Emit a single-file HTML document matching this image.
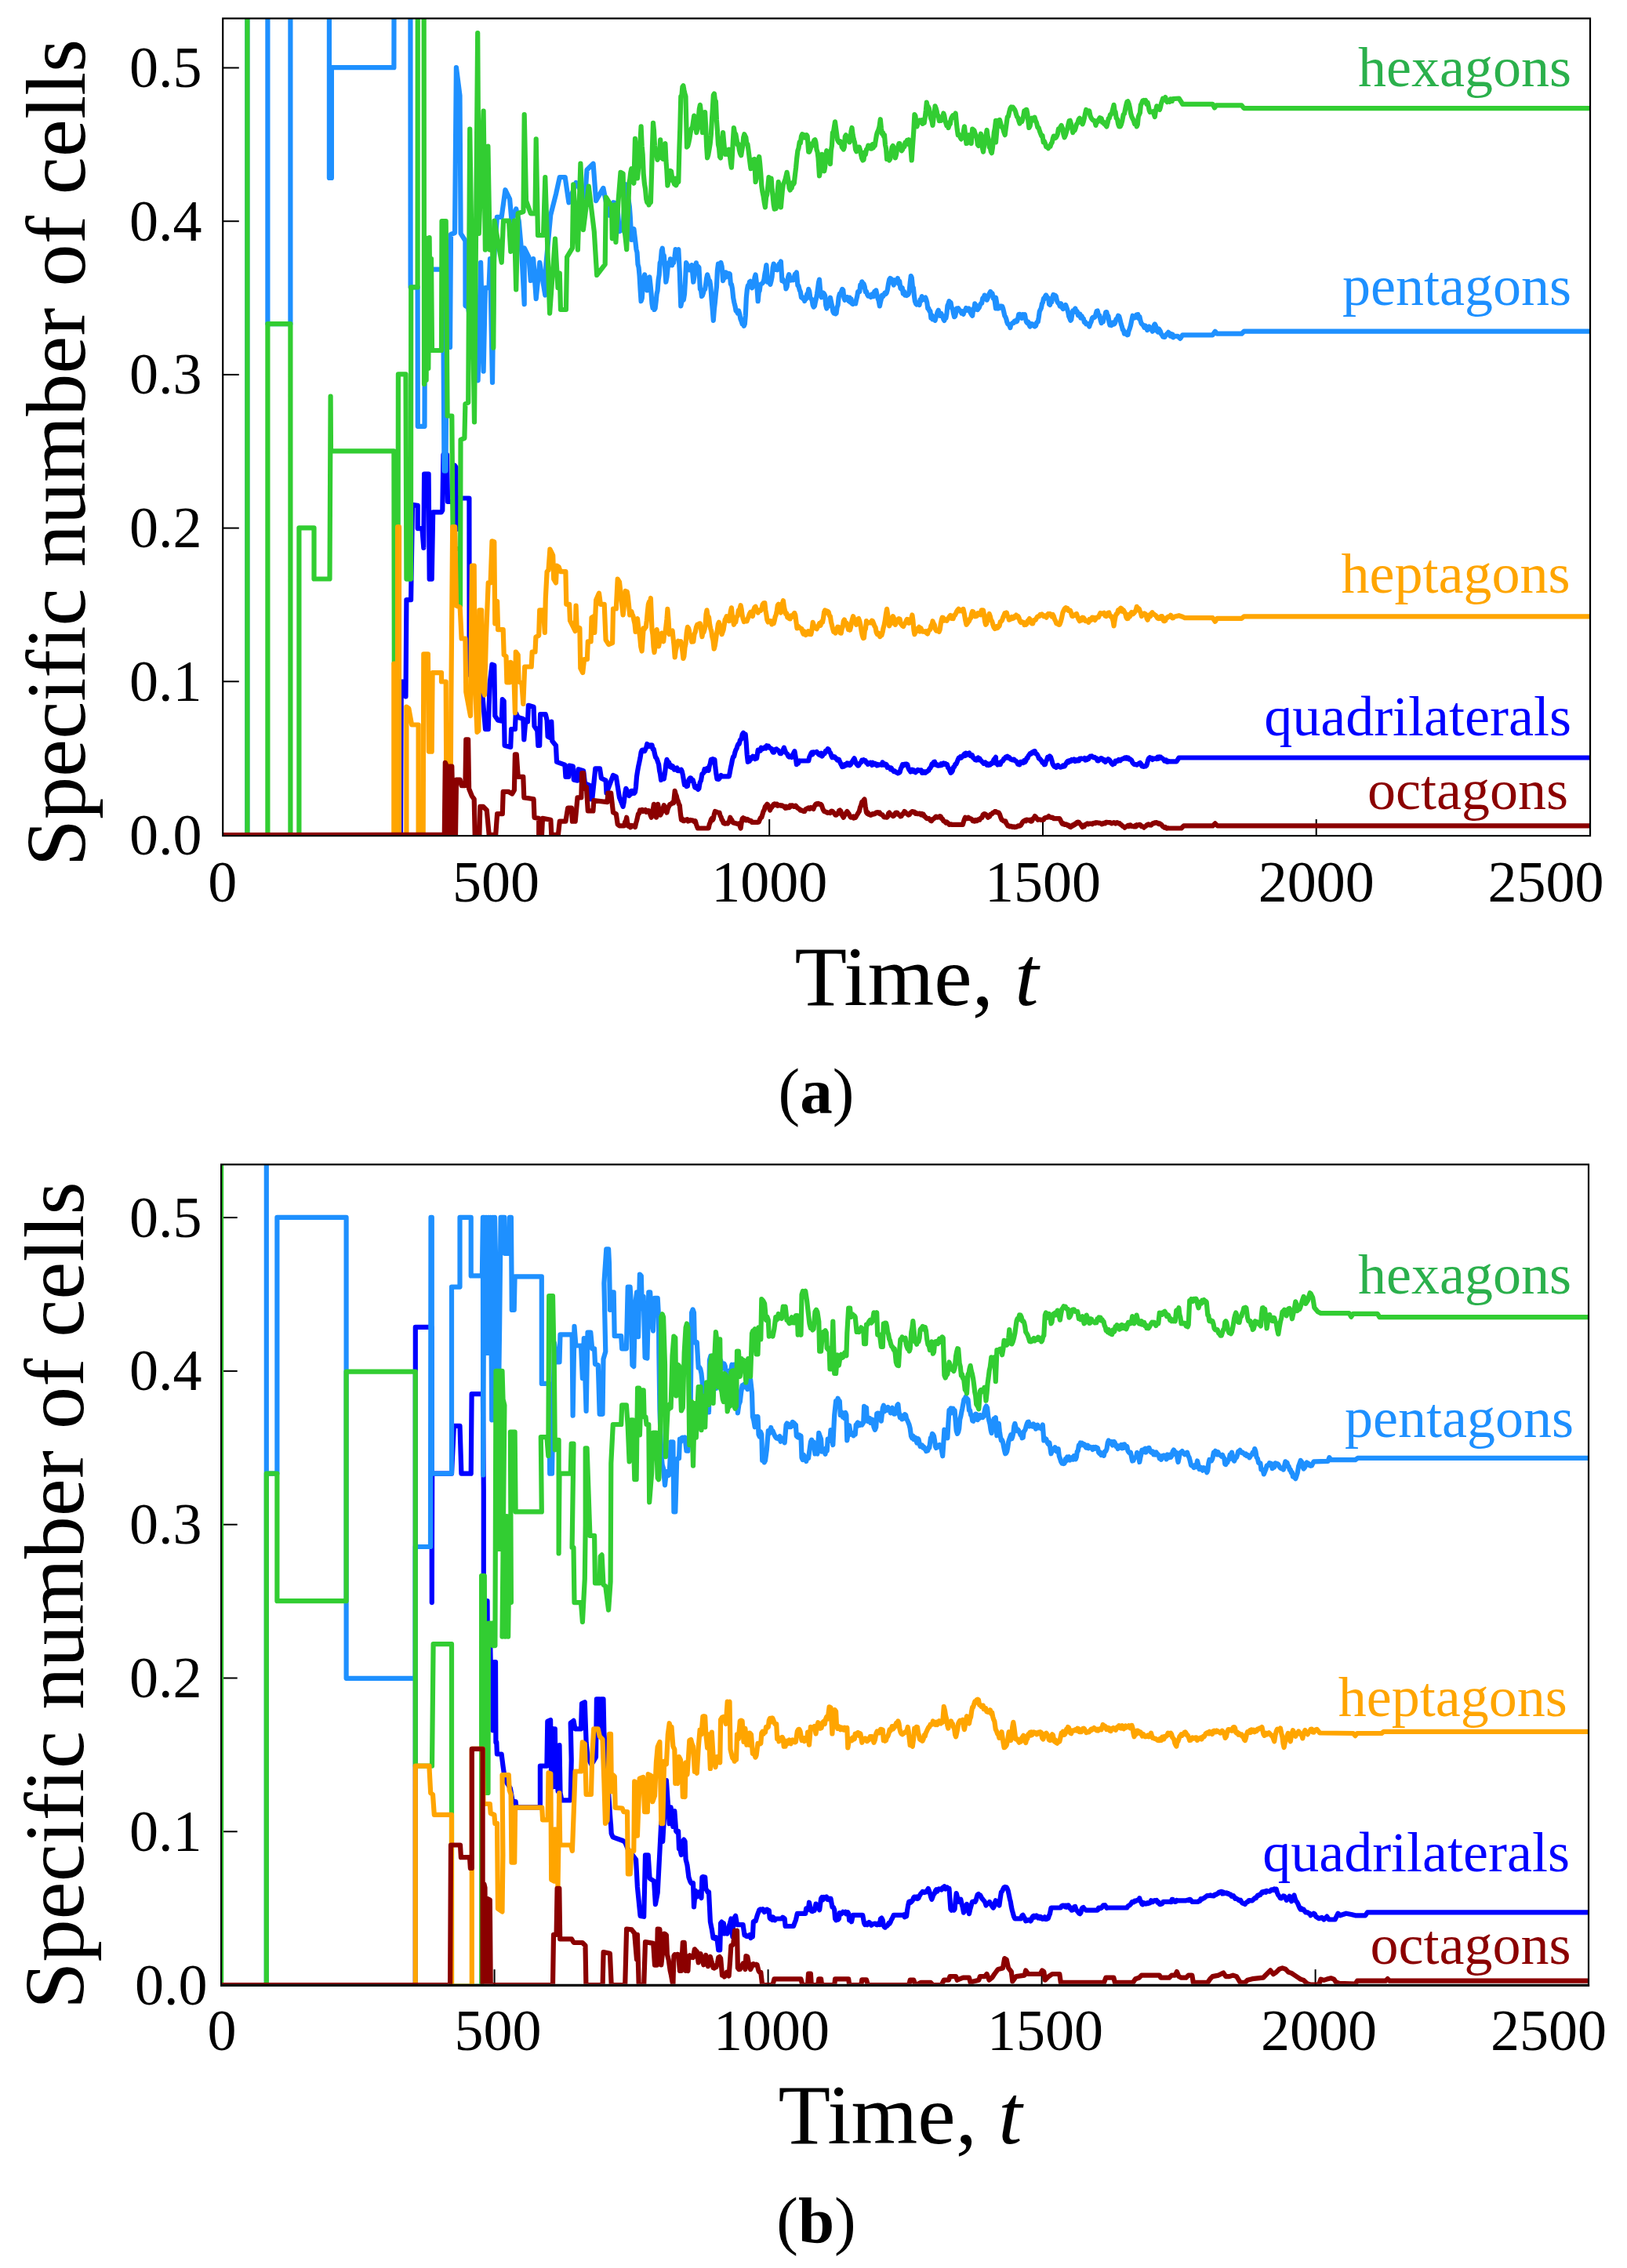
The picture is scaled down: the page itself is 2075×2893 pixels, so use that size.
<!DOCTYPE html>
<html lang="en"><head><meta charset="utf-8"><title>Specific number of cells vs time</title>
<style>
html,body{margin:0;padding:0;background:#fff;}
body{width:2075px;height:2893px;overflow:hidden;}
svg{display:block;font-family:"Liberation Serif","Times New Roman",serif;}
.yl{font-feature-settings:"dlig" 1;font-variant-ligatures:common-ligatures discretionary-ligatures;}
</style></head><body>
<svg width="2075" height="2893" viewBox="0 0 2075 2893">
<rect width="2075" height="2893" fill="#fff"/>
<clipPath id="clipa"><rect x="284.2" y="23.5" width="1743.8" height="1041.5"/></clipPath>
<g stroke="#000" stroke-width="2" fill="none">
<line x1="284.2" y1="869.3" x2="304.8" y2="869.3"/>
<line x1="284.2" y1="673.6" x2="304.8" y2="673.6"/>
<line x1="284.2" y1="477.9" x2="304.8" y2="477.9"/>
<line x1="284.2" y1="282.2" x2="304.8" y2="282.2"/>
<line x1="284.2" y1="86.5" x2="304.8" y2="86.5"/>
<line x1="632.5" y1="1065.0" x2="632.5" y2="1045.0"/>
<line x1="981.2" y1="1065.0" x2="981.2" y2="1045.0"/>
<line x1="1330.0" y1="1065.0" x2="1330.0" y2="1045.0"/>
<line x1="1678.7" y1="1065.0" x2="1678.7" y2="1045.0"/>
</g>
<g clip-path="url(#clipa)" fill="none" stroke-width="6.2" stroke-linejoin="round" stroke-linecap="round">
<polyline stroke="#0000ff" points="284.0,1066.6 511.0,1066.6 511.8,869.5 515.6,869.5 517.5,888.4 518.4,765.2 524.1,765.2 526.0,643.8 532.7,644.7 532.7,674.1 538.4,674.1 540.3,698.8 541.1,604.5 546.6,604.5 547.7,738.6 550.7,738.6 552.2,653.3 563.0,653.3 564.3,651.0 565.4,580.2 570.0,580.2 571.0,640.0 579.3,640.0 579.8,593.5 581.5,596.0 582.0,675.0 584.0,675.0 585.0,635.5 598.4,635.5 598.6,860.0 606.0,870.0 610.0,880.0 615.2,884.6 615.2,884.6 619.0,930.1 622.7,930.1 624.6,872.3 627.5,847.6 630.3,848.6 631.3,913.1 635.1,918.8 639.8,919.7 640.8,892.2 642.7,894.1 643.6,951.0 651.2,952.9 652.1,930.1 656.9,930.1 657.8,909.3 660.7,915.0 667.3,916.9 668.3,943.4 670.2,920.7 673.0,920.7 673.9,899.8 680.6,901.7 681.5,926.3 685.3,932.0 686.3,951.0 688.2,951.0 689.1,911.2 695.8,911.2 697.6,918.8 698.6,939.6 702.4,941.5 703.3,920.7 704.3,945.3 709.0,951.0 710.0,971.9 720.4,975.7 721.4,990.8 725.1,990.8 726.1,976.6 730.8,977.5 731.8,994.6 736.5,995.6 737.5,981.3 744.1,983.2 746.0,999.4 752.6,1002.2 753.6,1019.3 755.5,1017.4 759.3,980.4 765.0,980.4 766.9,992.7 772.6,995.6 773.5,1011.7 782.0,988.9 785.8,990.8 790.0,1017.4 794.6,1028.9 795.8,1022.8 797.0,1012.8 798.3,1005.8 799.6,1008.1 800.9,1012.7 802.3,1015.0 803.3,1010.9 804.3,1013.4 805.3,1008.9 806.5,1008.9 807.6,1011.7 808.8,1012.0 810.0,1010.4 811.0,1003.6 812.0,990.8 813.0,984.3 814.2,977.5 815.3,972.5 816.5,966.7 817.6,959.7 818.8,956.7 819.9,956.5 821.1,958.1 822.2,958.2 823.3,955.5 824.3,953.3 825.3,948.9 826.3,950.2 827.4,950.4 828.4,952.0 829.4,950.4 830.4,952.4 831.5,950.5 832.6,955.7 833.8,955.6 834.9,961.3 836.1,965.9 837.4,967.3 838.7,970.9 840.1,975.1 841.1,983.1 842.1,987.7 843.1,995.0 844.4,992.2 845.6,991.9 846.8,993.5 848.1,985.6 849.3,975.1 850.5,968.9 851.8,972.2 853.2,972.6 854.5,978.1 855.6,975.9 856.7,979.1 857.8,977.2 858.9,979.3 860.0,981.7 861.1,981.4 862.2,979.7 863.3,979.5 864.4,983.2 865.5,981.5 866.6,983.2 867.7,982.8 868.8,981.8 869.9,984.3 870.9,988.9 871.9,994.9 873.0,1001.2 874.3,1001.0 875.6,1003.2 876.9,1002.7 878.0,996.0 879.1,993.5 880.2,992.3 881.4,992.7 882.6,996.1 883.7,995.0 884.9,999.1 886.2,1004.3 887.2,1004.9 888.3,1003.0 889.3,1005.5 890.3,1006.9 891.4,1005.8 892.7,998.1 894.1,995.3 895.4,987.4 896.4,986.6 897.4,985.7 898.5,981.2 899.5,982.6 900.5,983.3 901.6,980.1 902.6,980.3 903.7,982.8 904.7,977.1 905.7,974.5 906.8,968.9 907.9,971.2 909.1,968.2 910.2,969.7 911.4,968.9 912.4,979.2 913.4,987.3 914.4,993.5 915.5,991.9 916.5,993.9 917.5,993.0 918.5,990.8 919.6,988.9 920.6,990.4 929.8,990.4 930.8,985.4 931.9,979.2 932.9,975.1 934.0,969.1 935.1,965.4 936.2,964.9 937.3,960.0 938.4,956.6 939.5,954.9 940.6,951.2 941.6,949.0 942.7,948.9 944.0,943.9 945.4,942.8 946.7,936.7 948.0,934.8 949.4,938.2 950.7,936.7 951.7,947.4 952.7,962.5 953.8,972.0 954.8,968.5 955.9,970.9 956.9,966.5 958.0,968.3 959.0,965.9 960.0,964.9 961.0,966.8 962.1,965.4 963.1,968.2 964.1,964.9 965.1,967.4 966.7,956.6 967.7,956.7 968.7,957.9 969.8,957.7 970.8,953.7 971.8,955.7 972.8,955.1 973.9,954.9 974.9,954.3 975.9,952.7 976.9,954.6 977.9,951.3 979.0,952.0 980.0,951.6 981.0,953.1 982.0,954.3 983.1,954.9 984.1,955.1 985.1,958.2 986.1,959.7 987.2,959.6 988.2,956.2 989.2,955.8 990.2,955.4 991.3,956.6 992.4,956.9 993.6,958.4 994.7,961.1 995.9,961.2 997.2,959.9 998.5,956.9 999.9,953.6 1000.9,956.7 1002.0,959.3 1003.0,961.0 1004.1,961.7 1005.1,964.3 1006.2,965.6 1007.4,965.5 1008.6,964.4 1009.7,965.9 1010.9,964.2 1012.2,960.4 1013.4,958.2 1014.6,965.2 1015.9,975.1 1017.0,972.8 1018.2,973.4 1019.3,970.4 1020.5,970.5 1031.2,970.5 1032.2,965.9 1033.3,963.8 1034.3,961.2 1035.3,959.7 1036.3,962.3 1037.4,959.4 1038.4,960.0 1039.4,959.5 1040.4,959.7 1041.6,959.0 1042.7,960.1 1043.9,962.1 1045.0,962.8 1046.2,963.4 1047.4,960.8 1048.5,964.6 1049.7,962.8 1050.7,961.6 1051.7,961.3 1052.7,958.4 1053.8,957.4 1054.8,957.9 1055.8,955.1 1057.0,956.3 1058.1,959.7 1059.3,960.7 1060.4,964.3 1061.4,966.2 1062.5,965.1 1063.5,965.2 1064.5,965.3 1065.5,967.2 1066.6,967.4 1067.7,969.4 1068.9,968.6 1070.0,968.8 1071.2,972.0 1072.2,974.0 1073.2,976.0 1074.2,978.1 1075.3,977.4 1076.3,977.7 1077.3,975.2 1078.3,976.3 1079.4,976.2 1080.4,973.5 1081.5,973.9 1082.7,973.7 1083.8,976.1 1085.0,975.1 1086.1,973.0 1087.3,970.9 1088.5,968.9 1089.6,967.4 1090.8,971.2 1091.9,973.9 1093.1,975.4 1094.2,976.6 1095.2,976.4 1096.3,974.2 1097.3,972.9 1098.3,972.3 1099.3,969.6 1100.4,970.5 1101.5,969.3 1102.6,970.5 1103.7,970.2 1104.8,972.9 1105.9,972.6 1106.9,974.9 1108.0,973.5 1109.1,973.7 1110.1,972.7 1111.1,973.9 1112.1,975.9 1113.2,972.8 1114.2,974.2 1115.2,975.0 1116.2,974.1 1117.3,975.1 1118.3,976.5 1119.3,975.1 1120.3,976.1 1121.4,975.3 1122.4,975.3 1123.4,975.5 1124.4,975.8 1125.5,972.5 1126.5,973.5 1127.5,975.7 1128.5,975.0 1129.6,974.7 1130.6,975.2 1131.6,979.1 1132.6,978.1 1133.7,979.1 1134.7,979.0 1135.7,981.4 1136.7,979.6 1137.8,981.8 1138.8,982.8 1139.9,984.1 1141.0,983.5 1142.1,984.4 1143.2,985.3 1144.3,985.4 1145.4,986.4 1146.5,985.8 1147.6,985.0 1148.8,980.5 1149.9,978.3 1151.1,975.1 1152.1,976.7 1153.1,974.9 1154.1,975.1 1155.2,974.6 1156.2,974.7 1157.2,975.1 1158.2,978.9 1159.3,981.7 1160.3,982.8 1161.3,984.6 1162.3,984.1 1163.4,981.7 1164.4,984.0 1165.4,982.3 1166.4,984.3 1167.5,985.2 1168.5,984.0 1169.5,984.0 1170.5,981.9 1171.6,982.2 1172.6,982.8 1173.7,982.5 1174.8,982.4 1175.9,985.9 1177.0,985.9 1178.1,984.3 1179.2,984.3 1180.3,985.8 1181.3,984.1 1182.3,984.1 1183.3,983.4 1184.4,982.8 1185.4,980.3 1186.4,979.7 1187.6,977.4 1188.7,974.4 1189.9,975.7 1191.0,972.0 1192.0,971.7 1193.1,975.3 1194.1,975.9 1195.1,975.2 1196.1,976.7 1197.2,976.6 1198.2,975.7 1199.2,976.3 1200.2,974.3 1201.3,976.0 1202.3,974.3 1203.3,973.5 1204.5,974.7 1205.6,973.9 1206.8,975.5 1207.9,975.1 1209.1,979.3 1210.2,980.3 1211.4,983.2 1212.5,985.8 1213.7,984.9 1214.8,983.3 1216.0,978.6 1217.1,978.1 1218.3,974.8 1219.4,974.6 1220.6,972.0 1221.8,968.9 1222.8,966.7 1223.8,966.4 1224.8,965.3 1225.8,966.7 1226.9,965.4 1227.9,964.3 1228.9,963.2 1229.9,961.8 1231.0,964.0 1232.0,960.6 1233.0,963.1 1234.0,961.2 1235.2,961.7 1236.3,960.6 1237.5,964.0 1238.7,962.8 1239.8,963.0 1241.0,966.5 1242.1,967.1 1243.3,968.9 1244.3,968.0 1245.3,969.6 1246.3,967.5 1247.4,966.5 1248.4,969.3 1249.4,967.4 1250.4,969.8 1251.5,970.3 1252.5,971.9 1253.5,972.5 1254.5,974.0 1255.6,973.5 1256.6,972.5 1257.6,974.5 1258.6,975.7 1259.7,974.4 1260.7,976.0 1261.7,975.1 1262.9,975.5 1264.0,973.5 1265.2,973.9 1266.3,972.0 1267.5,969.0 1268.8,967.5 1270.0,965.9 1270.0,973.5 1271.2,973.2 1272.3,975.4 1273.5,973.1 1274.6,975.1 1275.8,975.1 1276.9,971.6 1278.1,971.3 1279.2,970.5 1280.2,967.8 1281.3,967.8 1282.3,965.9 1283.4,965.3 1284.6,964.8 1285.7,966.7 1286.9,965.9 1287.9,966.9 1289.0,968.5 1290.0,968.9 1291.1,969.3 1292.3,968.5 1293.4,968.8 1294.6,970.5 1295.7,970.6 1296.9,972.1 1298.0,974.6 1299.2,975.1 1300.3,975.4 1301.5,971.9 1302.7,971.8 1303.8,972.0 1305.0,973.0 1306.1,970.3 1307.3,972.1 1308.4,970.5 1309.4,967.0 1310.5,967.1 1311.5,964.3 1312.6,962.8 1313.8,961.2 1314.9,961.6 1316.1,959.7 1317.3,960.3 1318.6,958.3 1319.8,958.2 1321.1,961.4 1322.4,961.9 1323.8,964.3 1324.9,967.4 1326.1,967.5 1327.2,969.3 1328.4,970.5 1329.5,972.9 1330.7,972.8 1331.8,975.3 1333.0,975.1 1334.0,970.8 1335.0,969.5 1336.1,965.9 1337.4,966.4 1338.7,964.4 1340.1,965.9 1341.3,969.6 1342.5,974.3 1343.8,976.6 1344.9,977.9 1346.0,977.4 1347.0,978.9 1348.1,976.6 1349.2,976.1 1350.3,977.6 1351.4,978.1 1352.5,978.7 1353.5,977.8 1354.5,978.2 1355.5,976.6 1356.6,977.6 1357.6,977.5 1358.6,976.1 1359.6,973.8 1360.7,972.0 1361.7,971.0 1362.7,972.5 1363.7,970.3 1364.8,970.1 1365.8,970.9 1366.8,968.9 1367.8,970.3 1368.9,970.1 1369.9,968.4 1370.9,971.0 1371.9,969.2 1373.0,970.5 1374.0,969.4 1375.0,970.4 1376.0,970.4 1377.0,967.6 1378.1,968.3 1379.1,967.4 1380.1,967.9 1381.1,968.0 1382.2,968.1 1383.2,967.0 1384.2,969.6 1385.2,968.9 1386.3,969.1 1387.3,967.0 1388.3,968.0 1389.3,966.0 1390.4,964.7 1391.4,965.2 1392.5,964.5 1393.7,965.6 1394.8,966.3 1396.0,965.9 1397.2,967.2 1398.3,967.1 1399.5,970.2 1400.6,970.5 1401.8,969.6 1402.9,968.1 1404.1,967.1 1405.2,967.4 1406.4,968.7 1407.5,970.3 1408.7,969.4 1409.8,972.0 1411.0,969.9 1412.1,969.9 1413.3,968.3 1414.4,968.9 1415.6,970.2 1416.7,972.4 1417.9,974.2 1419.0,975.1 1420.2,973.2 1421.4,974.0 1422.5,970.6 1423.7,970.5 1424.7,971.1 1425.7,970.8 1426.7,969.0 1427.8,969.6 1428.8,970.3 1429.8,968.9 1430.8,968.3 1431.9,967.9 1432.9,967.8 1433.9,966.9 1434.9,966.5 1435.9,967.4 1437.0,966.2 1438.0,967.5 1439.0,966.7 1440.0,968.6 1441.1,968.1 1442.1,968.9 1443.2,969.8 1444.4,972.9 1445.6,974.2 1446.7,975.1 1447.7,974.9 1448.8,975.2 1449.8,975.6 1450.8,974.9 1451.8,974.7 1452.9,973.5 1454.0,973.0 1455.2,974.3 1456.3,977.3 1457.5,976.6 1458.6,977.9 1459.8,977.4 1460.9,977.5 1462.1,976.6 1463.1,973.9 1464.1,969.6 1465.1,967.4 1466.3,966.3 1467.4,967.8 1468.6,967.1 1469.8,968.9 1470.9,967.5 1472.1,968.0 1473.2,967.3 1474.4,967.4 1475.4,968.0 1476.4,965.7 1477.4,967.7 1478.5,965.4 1479.5,966.9 1480.5,965.9 1481.7,967.3 1482.8,967.6 1484.0,968.8 1485.1,970.5 1486.1,969.5 1487.2,969.4 1488.2,971.7 1489.2,971.9 1490.2,970.9 1491.3,971.4 1500.5,971.4 1503.6,966.5 2038.3,966.5"/>
<polyline stroke="#1e90ff" points="284.0,1066.6 315.4,1066.6 315.4,-60.0 341.4,-60.0 341.4,413.1 370.4,413.1 370.4,-60.0 419.9,-60.0 419.9,226.9 422.9,226.9 422.9,86.2 502.4,86.2 502.6,-60.0 523.4,-60.0 523.6,366.4 532.6,366.4 532.8,543.8 541.5,543.8 542.0,343.7 561.0,343.7 565.0,343.7 566.5,600.6 568.5,600.6 569.5,443.0 574.0,443.0 575.0,299.0 580.0,297.0 581.9,86.0 586.5,121.9 587.6,297.8 593.4,307.0 593.5,390.0 597.0,392.0 603.0,430.0 609.6,485.3 613.1,334.8 616.6,473.7 618.9,367.2 623.5,367.2 625.0,330.0 628.0,488.0 630.0,330.0 633.9,276.9 639.7,276.9 644.4,242.2 650.1,253.8 652.5,281.6 658.2,266.5 661.7,281.6 665.2,320.9 668.7,388.1 668.7,316.3 674.4,327.9 676.8,358.0 680.2,330.2 683.7,381.1 688.3,334.8 695.3,376.5 696.4,337.1 702.2,274.6 709.2,246.9 713.8,226.0 720.7,226.0 725.4,258.4 734.6,233.0 746.2,251.5 748.5,216.8 756.6,208.7 760.1,256.1 769.4,239.9 776.3,274.6 780.0,274.6 782.3,258.2 786.9,259.8 790.0,295.1 794.6,292.0 795.6,274.5 796.6,257.2 797.7,235.2 798.7,237.3 799.7,244.1 800.7,252.1 801.8,256.6 802.8,263.1 803.8,276.7 805.3,305.9 806.4,298.2 807.4,296.0 808.4,292.0 809.4,300.1 810.5,309.1 811.5,318.2 812.5,322.0 813.5,337.2 814.6,341.2 815.6,352.0 816.6,369.6 817.6,384.2 818.8,380.3 819.9,362.7 821.1,355.5 822.2,350.4 823.3,361.4 824.3,365.0 825.3,370.4 826.3,369.5 827.4,354.5 828.4,353.5 829.4,362.3 830.4,372.1 831.5,387.3 832.5,392.9 833.5,387.5 834.5,395.0 835.6,393.3 836.6,385.1 837.6,375.0 838.6,370.8 839.7,356.5 840.7,350.4 841.7,335.3 842.7,333.0 843.8,319.7 844.8,316.8 845.8,327.1 846.8,325.9 848.1,341.4 849.3,359.7 850.5,353.1 851.7,340.9 853.0,335.1 854.0,338.5 855.0,330.4 856.0,335.8 857.1,338.4 858.1,334.4 859.1,335.1 860.4,328.0 861.6,318.2 862.8,322.9 864.0,318.9 865.3,318.2 866.8,347.4 868.3,390.4 869.5,384.4 870.6,380.4 871.8,382.5 873.0,375.0 874.0,357.9 875.1,335.1 876.4,337.6 877.8,341.4 879.1,344.3 880.1,343.9 881.1,344.6 882.2,338.1 883.2,347.3 884.3,359.7 885.6,352.0 886.8,339.7 887.9,335.3 889.1,342.5 890.2,339.9 891.4,341.2 892.9,368.9 894.0,369.8 895.0,378.0 896.0,376.6 897.0,373.5 898.0,369.6 899.1,368.9 900.1,362.8 901.1,355.1 902.1,350.4 903.2,354.0 904.2,357.8 905.2,358.1 906.4,366.0 907.5,381.3 908.7,395.1 909.8,408.8 910.9,394.5 911.9,386.0 912.9,375.0 913.9,366.4 914.9,345.0 916.0,336.6 917.1,337.9 918.3,337.0 919.4,334.9 920.6,339.7 922.1,358.1 923.1,351.7 924.2,354.6 925.2,347.4 926.3,347.9 927.5,352.0 928.7,353.0 929.8,348.9 930.8,349.6 931.9,362.5 932.9,362.7 934.0,368.4 935.2,380.0 936.3,385.7 937.5,390.4 938.6,396.5 939.8,397.3 940.9,399.6 942.1,396.5 943.2,400.3 944.4,406.9 945.6,409.9 946.7,413.4 947.7,408.8 948.8,415.8 949.8,413.4 950.8,402.2 951.8,380.0 952.9,368.9 953.9,364.2 954.9,366.1 955.9,359.7 956.9,358.9 958.0,363.6 959.0,367.3 960.2,364.9 961.3,362.8 962.5,354.0 963.6,350.4 964.6,358.4 965.7,369.5 966.7,384.2 967.7,373.0 968.7,370.8 969.8,362.7 970.9,362.2 972.1,361.6 973.2,360.3 974.4,356.6 975.4,349.6 976.4,344.5 977.4,338.1 979.0,359.7 980.1,357.5 981.3,360.7 982.4,362.7 983.6,358.1 984.6,353.1 985.6,341.4 986.7,336.6 987.8,339.9 989.0,343.8 990.1,339.8 991.3,344.3 992.4,340.3 993.6,336.6 994.7,336.4 995.9,333.5 997.4,358.1 998.4,356.3 999.5,359.0 1000.5,360.2 1001.5,359.6 1002.5,368.3 1003.6,365.8 1005.1,353.5 1006.2,350.1 1007.3,354.6 1008.4,357.5 1009.5,355.4 1010.6,354.9 1011.7,357.3 1012.8,353.5 1013.8,350.0 1014.8,350.8 1015.9,347.4 1017.4,364.3 1018.5,364.6 1019.7,369.8 1020.8,372.1 1022.0,379.6 1023.0,379.9 1024.0,381.0 1025.1,379.7 1026.1,384.1 1027.1,379.9 1028.1,381.2 1029.2,375.0 1030.2,376.1 1031.2,368.9 1032.2,371.8 1033.3,379.5 1034.3,381.2 1035.4,381.6 1036.6,389.0 1037.7,391.6 1038.9,390.4 1039.9,385.2 1040.9,381.1 1042.0,375.0 1043.0,368.1 1044.0,360.3 1045.0,356.6 1046.6,376.6 1047.7,379.2 1048.9,375.5 1050.0,373.6 1051.2,375.0 1052.2,377.3 1053.2,389.3 1054.3,393.5 1055.4,387.2 1056.6,390.5 1057.7,383.2 1058.9,379.6 1060.0,384.9 1061.2,390.3 1062.3,397.3 1063.5,399.6 1064.5,396.1 1065.5,400.4 1066.6,399.6 1067.6,392.0 1068.6,389.4 1069.6,379.6 1070.8,375.0 1071.9,375.7 1073.1,371.7 1074.2,368.9 1075.3,370.1 1076.3,379.5 1077.3,382.7 1078.3,379.2 1079.4,380.4 1080.4,378.9 1081.4,382.1 1082.4,384.0 1083.5,379.6 1084.5,385.5 1085.5,381.3 1086.5,387.3 1087.7,387.9 1088.8,386.9 1090.0,387.1 1091.1,387.3 1092.2,381.9 1093.2,377.9 1094.2,371.9 1095.2,371.4 1096.3,372.0 1097.3,363.4 1098.3,366.4 1099.3,359.3 1100.4,361.2 1101.5,362.0 1102.7,365.5 1103.8,372.2 1105.0,371.9 1106.1,375.6 1107.3,377.6 1108.4,377.6 1109.6,376.6 1110.7,378.9 1111.9,375.4 1113.0,376.0 1114.2,378.1 1115.2,371.9 1116.2,375.5 1117.3,370.4 1118.4,375.8 1119.6,380.9 1120.7,383.6 1121.9,390.4 1122.9,385.6 1123.9,381.6 1124.9,376.6 1126.1,378.3 1127.3,376.1 1128.4,373.7 1129.6,375.0 1130.7,373.6 1131.9,369.4 1133.0,362.1 1134.2,356.6 1135.3,355.0 1136.5,355.7 1137.6,360.1 1138.8,361.2 1139.8,363.6 1140.8,357.2 1141.9,359.7 1142.9,360.1 1143.9,360.4 1144.9,355.0 1146.1,361.9 1147.2,358.7 1148.4,367.5 1149.5,368.9 1150.7,367.0 1151.8,374.6 1153.0,371.8 1154.1,376.6 1155.3,375.5 1156.4,377.0 1157.6,376.2 1158.8,375.0 1159.8,370.0 1160.8,359.9 1161.8,352.0 1162.8,354.2 1163.9,365.5 1164.9,367.3 1165.9,377.0 1166.9,384.3 1168.0,387.3 1169.1,388.5 1170.3,386.4 1171.4,387.5 1172.6,388.9 1173.6,382.1 1174.6,384.0 1175.7,378.1 1176.8,380.9 1178.0,381.9 1179.1,380.5 1180.3,379.6 1181.3,382.3 1182.3,386.1 1183.3,393.5 1184.4,393.3 1185.4,396.8 1186.4,396.9 1187.4,405.7 1188.5,402.2 1189.5,407.3 1190.5,404.9 1191.5,406.3 1192.6,408.8 1193.6,405.0 1194.6,402.1 1195.6,398.1 1196.8,395.8 1197.9,399.9 1199.1,402.9 1200.2,399.6 1201.3,402.4 1202.3,403.0 1203.3,407.3 1204.3,408.9 1205.4,403.5 1206.4,405.8 1207.4,400.3 1208.4,390.0 1209.5,387.3 1210.5,384.3 1211.5,388.2 1212.5,385.8 1213.7,392.6 1214.8,393.8 1216.0,399.8 1217.1,404.2 1218.2,403.2 1219.2,398.7 1220.2,393.5 1221.2,394.5 1222.3,393.4 1223.3,395.3 1224.3,395.9 1225.3,397.3 1226.4,399.6 1227.5,397.5 1228.7,400.8 1229.8,396.4 1231.0,396.5 1232.1,393.0 1233.3,393.8 1234.4,395.8 1235.6,393.5 1236.7,396.8 1237.9,399.3 1239.0,401.2 1240.2,402.7 1241.2,394.1 1242.2,395.5 1243.3,387.3 1244.4,389.1 1245.6,392.1 1246.7,395.1 1247.9,393.5 1248.9,392.1 1249.9,389.1 1250.9,387.3 1252.1,386.9 1253.3,380.3 1254.4,380.9 1255.6,376.6 1256.6,379.3 1257.6,377.7 1258.6,382.7 1259.8,380.0 1260.9,376.3 1262.1,374.1 1263.2,371.9 1264.4,374.2 1265.5,374.2 1266.7,380.4 1267.8,379.6 1268.9,385.2 1270.0,393.5 1270.0,379.6 1271.0,385.4 1272.0,391.4 1273.1,393.5 1274.1,392.9 1275.1,390.9 1276.1,390.4 1277.2,392.7 1278.2,390.7 1279.2,393.5 1280.2,397.8 1281.3,402.7 1282.3,404.2 1283.3,406.8 1284.3,411.0 1285.4,413.4 1286.4,414.2 1287.4,414.9 1288.4,418.0 1289.5,413.4 1290.5,413.2 1291.5,411.9 1292.7,412.0 1293.8,409.5 1295.0,409.0 1296.1,410.4 1297.1,409.8 1298.2,406.6 1299.2,401.1 1300.5,400.9 1301.9,402.8 1303.2,405.8 1304.4,401.1 1305.6,401.7 1306.9,401.1 1307.9,406.1 1308.9,410.4 1310.0,411.9 1311.2,410.6 1312.4,414.3 1313.6,416.5 1314.7,412.9 1315.7,413.2 1316.7,413.4 1317.7,415.0 1318.8,416.0 1319.8,416.5 1321.1,415.4 1322.4,411.0 1323.8,410.4 1324.8,404.5 1325.8,397.1 1326.9,395.0 1327.9,392.9 1328.9,387.6 1329.9,385.8 1331.0,380.6 1332.0,381.1 1333.0,378.1 1334.0,376.4 1335.0,378.3 1336.1,379.6 1337.1,380.4 1338.1,388.1 1339.1,388.9 1340.2,382.6 1341.2,385.4 1342.2,379.6 1343.4,376.0 1344.5,380.0 1345.7,376.8 1346.8,378.1 1348.1,383.9 1349.3,386.3 1350.5,387.3 1351.8,390.5 1353.2,387.3 1354.5,391.9 1355.7,394.1 1356.8,391.5 1358.0,392.4 1359.1,388.9 1360.1,391.5 1361.2,394.8 1362.2,398.1 1363.2,403.7 1364.2,405.8 1365.3,408.8 1366.3,407.5 1367.3,400.7 1368.3,396.5 1369.4,397.6 1370.4,395.0 1371.4,393.5 1372.6,398.2 1373.7,397.2 1374.9,402.3 1376.0,402.7 1377.2,400.5 1378.3,405.6 1379.5,403.0 1380.6,405.8 1381.8,406.4 1382.9,411.1 1384.1,410.6 1385.2,413.4 1386.6,412.8 1387.9,413.0 1389.2,416.5 1390.5,412.7 1391.7,410.1 1392.9,405.8 1394.2,404.6 1395.4,405.1 1396.6,404.2 1397.6,400.6 1398.7,396.7 1399.7,396.5 1401.0,401.9 1402.3,402.4 1403.7,408.8 1404.7,412.1 1405.7,410.2 1406.8,410.4 1407.9,406.1 1409.1,403.7 1410.2,398.3 1411.4,398.1 1412.4,403.3 1413.4,403.2 1414.4,410.4 1415.5,414.7 1416.5,411.6 1417.5,415.0 1418.7,411.5 1419.8,411.4 1421.0,413.4 1422.1,411.9 1423.5,407.1 1424.8,406.5 1426.1,402.7 1427.3,403.5 1428.6,408.4 1429.8,413.4 1430.8,416.2 1431.9,420.9 1432.9,421.1 1434.0,425.7 1435.2,424.1 1436.3,425.9 1437.5,427.3 1438.5,427.0 1439.5,422.3 1440.6,419.6 1441.9,415.4 1443.2,409.1 1444.6,402.7 1445.8,405.6 1447.0,405.5 1448.2,404.2 1449.3,401.6 1450.3,404.7 1451.3,401.1 1452.3,406.0 1453.4,403.9 1454.4,408.8 1455.6,412.5 1456.8,413.7 1458.1,415.0 1459.4,417.8 1460.7,415.5 1462.1,418.0 1463.2,421.1 1464.4,418.2 1465.5,416.6 1466.7,419.6 1467.7,418.3 1468.7,419.6 1469.8,422.7 1470.8,421.6 1471.8,415.1 1472.8,413.4 1473.9,415.4 1474.9,420.6 1475.9,422.7 1476.9,423.5 1477.9,419.4 1479.0,421.1 1480.0,422.8 1481.0,426.2 1482.0,427.3 1483.2,429.5 1484.4,429.9 1485.5,429.8 1486.7,427.3 1487.8,426.4 1489.0,425.3 1490.1,423.9 1491.3,426.7 1492.3,428.4 1493.3,425.8 1494.3,429.1 1495.4,426.5 1496.4,430.4 1497.4,428.8 1502.0,428.8 1505.1,431.9 1508.2,427.3 1546.6,427.3 1549.7,422.7 1552.1,425.7 1583.5,425.7 1586.5,422.7 2038.3,422.7"/>
<polyline stroke="#32cd32" points="284.0,1066.6 315.4,1066.6 315.4,-60.0 315.4,1066.6 341.4,1066.6 341.4,413.1 370.4,413.1 370.4,1066.6 381.4,1066.6 381.4,673.3 400.5,673.3 400.5,738.5 420.5,738.5 421.6,505.6 422.0,575.4 502.4,575.4 502.8,846.7 507.5,846.7 507.9,477.4 517.5,477.4 518.4,738.6 524.0,738.6 524.2,366.4 532.6,366.4 532.8,-60.0 540.6,-60.0 541.0,490.0 542.3,303.0 543.6,485.0 545.0,310.0 546.3,470.0 547.6,303.0 549.0,440.0 550.0,330.0 551.0,447.0 551.8,447.0 563.0,447.0 563.5,282.0 568.7,282.0 570.6,530.5 576.3,530.5 577.5,672.2 580.0,672.2 580.5,700.0 586.5,700.0 587.0,772.7 587.5,560.8 592.4,559.0 593.4,515.3 597.2,513.4 599.2,164.7 605.0,538.5 609.2,42.0 610.8,297.8 616.6,141.5 618.9,318.6 622.4,186.7 624.7,318.6 628.1,309.4 629.3,443.6 630.5,281.6 639.7,334.8 642.0,281.6 649.0,281.6 651.3,320.9 655.9,281.6 658.2,369.5 660.6,272.3 667.5,270.0 668.7,146.2 671.0,256.1 676.8,272.3 682.5,272.3 683.7,177.4 686.0,300.1 693.0,300.1 695.3,226.0 701.1,399.6 708.0,304.7 711.5,367.2 713.8,348.7 715.0,395.0 721.9,395.0 723.1,327.9 730.0,316.3 731.2,235.3 736.9,318.6 740.4,208.7 743.9,293.1 750.8,237.6 757.8,295.5 761.2,351.0 771.7,337.1 772.8,251.5 780.0,263.1 780.8,304.3 783.8,261.3 785.4,308.9 788.4,258.2 791.5,219.8 794.6,221.4 796.1,295.1 797.1,298.1 798.2,308.3 799.2,318.2 800.2,284.6 801.2,266.9 802.3,233.7 803.3,228.8 804.3,219.9 805.3,215.2 806.4,217.3 807.4,231.4 808.4,233.7 810.0,176.8 811.0,189.8 812.0,209.5 813.0,227.5 814.2,213.9 815.3,199.6 816.5,181.5 817.6,161.4 818.7,186.2 819.7,197.3 820.7,221.4 821.9,234.4 823.0,240.8 824.2,253.7 825.3,258.2 826.5,258.2 827.6,261.4 828.8,256.3 829.9,258.2 831.0,222.4 832.0,185.8 833.0,156.8 834.0,166.8 835.0,185.7 836.1,196.8 837.2,195.6 838.4,203.9 839.5,198.9 840.7,201.4 842.2,178.3 843.2,191.7 844.3,196.2 845.3,202.9 846.3,200.9 847.3,190.6 848.4,183.0 849.4,204.6 850.4,217.6 851.4,236.7 852.6,230.0 853.7,230.1 854.9,217.9 856.0,218.3 857.1,226.1 858.1,227.5 859.1,232.1 860.1,234.8 861.2,227.6 862.2,236.3 863.2,234.2 864.2,230.2 865.3,232.1 866.3,192.5 867.3,163.6 868.3,123.0 869.4,122.1 870.4,110.9 871.4,109.2 872.4,114.9 873.5,119.5 874.5,123.0 876.0,187.6 877.2,186.2 878.3,182.1 879.5,176.1 880.6,169.1 881.8,163.7 882.9,163.2 884.1,155.2 885.2,147.6 886.3,155.4 887.3,160.8 888.3,169.1 889.5,164.0 890.6,154.0 891.8,139.2 892.9,133.8 894.0,143.3 895.0,157.6 896.0,169.1 897.0,155.8 898.0,155.1 899.1,143.0 900.1,160.8 901.1,186.0 902.1,201.4 903.3,197.5 904.4,191.1 905.6,184.1 906.8,172.2 907.8,154.3 908.8,139.1 909.8,121.5 910.9,119.4 911.9,128.4 912.9,129.2 913.9,152.2 914.9,166.1 916.0,184.5 917.0,188.8 918.0,200.0 919.0,201.4 920.1,190.8 921.1,180.6 922.1,169.1 923.1,180.7 924.2,192.0 925.2,196.8 926.3,191.1 927.5,196.8 928.7,193.2 929.8,190.6 930.8,197.8 931.9,208.0 932.9,213.7 933.9,198.1 934.9,178.6 935.9,163.0 937.1,170.3 938.3,171.0 939.4,177.3 940.6,184.5 941.7,183.6 942.9,191.5 944.0,195.7 945.2,198.3 946.2,192.0 947.2,186.4 948.2,175.3 949.3,171.2 950.3,173.5 951.3,175.3 952.3,183.5 953.4,183.8 954.4,190.6 955.4,198.7 956.4,206.9 957.5,215.2 958.6,213.1 959.8,210.0 960.9,203.5 962.1,202.9 963.6,232.1 964.8,226.4 965.9,216.3 967.1,203.5 968.2,199.9 969.2,209.2 970.3,221.8 971.3,236.7 972.4,244.6 973.6,250.3 974.7,257.9 975.9,264.4 977.1,251.8 978.2,248.2 979.4,237.1 980.5,226.0 981.5,229.7 982.6,227.4 983.6,227.5 984.6,241.7 985.6,250.0 986.7,261.3 987.7,266.6 988.7,265.0 989.7,265.9 990.8,259.0 991.8,242.0 992.8,232.1 993.8,243.0 994.9,254.2 995.9,264.4 996.9,252.9 997.9,242.1 998.9,235.2 1000.1,232.5 1001.3,229.5 1002.4,225.0 1003.6,219.8 1004.6,225.3 1005.6,231.2 1006.6,239.8 1007.7,242.5 1008.7,236.1 1009.7,239.9 1010.7,233.1 1011.8,235.0 1012.8,233.7 1013.9,223.9 1015.1,213.9 1016.2,202.0 1017.4,192.2 1018.5,189.0 1019.7,181.1 1020.8,182.5 1022.0,173.7 1023.1,171.2 1024.2,174.3 1025.3,172.1 1026.4,175.6 1027.5,174.7 1028.6,172.1 1029.7,173.7 1031.2,193.7 1032.2,193.8 1033.3,190.7 1034.3,187.6 1035.3,183.5 1036.3,185.7 1037.4,181.4 1038.4,179.0 1039.4,178.2 1040.4,181.4 1041.5,190.9 1042.5,193.7 1043.5,201.4 1045.0,224.4 1046.1,218.1 1047.1,202.6 1048.1,196.8 1049.1,203.8 1050.2,212.7 1051.2,218.3 1052.2,212.9 1053.2,197.9 1054.3,192.2 1055.4,194.9 1056.6,196.8 1057.7,202.9 1058.9,209.1 1059.9,191.8 1060.9,186.0 1061.9,169.1 1063.0,168.0 1064.0,161.5 1065.0,155.3 1066.0,162.9 1067.1,170.9 1068.1,178.3 1069.2,180.5 1070.4,182.0 1071.6,180.3 1072.7,181.4 1073.7,187.8 1074.8,189.1 1075.8,190.6 1076.8,187.8 1077.8,174.3 1078.9,172.2 1080.0,174.8 1081.2,174.9 1082.3,176.6 1083.5,181.4 1084.5,178.4 1085.5,167.5 1086.5,163.0 1087.7,172.4 1088.8,177.6 1090.0,181.7 1091.1,190.6 1092.3,193.2 1093.4,192.0 1094.6,187.5 1095.8,187.6 1096.9,190.9 1098.1,197.0 1099.2,202.0 1100.4,204.5 1101.5,203.9 1102.7,194.4 1103.8,197.2 1105.0,190.6 1106.1,189.9 1107.3,185.6 1108.4,188.9 1109.6,186.0 1110.6,189.7 1111.6,189.7 1112.7,184.1 1113.7,188.5 1114.7,184.1 1115.7,186.0 1116.8,179.3 1117.8,172.9 1118.8,169.1 1120.1,166.3 1121.5,161.6 1122.8,152.2 1123.9,163.3 1124.9,170.7 1126.0,169.2 1127.0,173.8 1128.0,172.2 1129.0,184.6 1130.1,189.6 1131.1,202.9 1132.1,200.1 1133.1,201.7 1134.2,204.5 1135.3,202.7 1136.5,194.7 1137.6,187.7 1138.8,186.0 1139.8,190.8 1140.8,192.5 1141.9,201.4 1143.0,197.5 1144.2,189.0 1145.3,187.1 1146.5,183.0 1147.6,183.0 1148.8,189.7 1149.9,192.3 1151.1,190.6 1152.2,186.5 1153.4,187.2 1154.5,181.5 1155.7,181.4 1156.8,179.1 1158.0,183.8 1159.1,178.2 1160.3,179.9 1161.5,188.7 1162.7,204.5 1164.0,185.2 1165.2,168.8 1166.4,146.1 1167.5,148.1 1168.5,157.2 1169.5,161.4 1170.7,156.4 1171.8,156.2 1173.0,153.5 1174.1,153.8 1175.3,153.3 1176.4,157.9 1177.6,155.2 1178.7,156.8 1179.8,149.5 1180.8,141.1 1181.8,130.7 1182.8,135.9 1183.8,136.1 1184.9,138.4 1186.0,145.7 1187.2,151.0 1188.3,153.8 1189.5,159.9 1190.5,151.3 1191.5,144.6 1192.6,135.3 1193.6,137.8 1194.6,141.6 1195.6,147.6 1196.8,147.7 1197.9,154.2 1199.1,152.9 1200.2,153.8 1201.3,150.7 1202.3,150.2 1203.3,144.5 1204.3,147.5 1205.4,153.9 1206.4,157.1 1207.4,160.4 1208.4,156.6 1209.5,163.0 1210.6,159.6 1211.8,158.1 1212.9,151.8 1214.1,149.1 1215.2,147.3 1216.4,149.8 1217.5,147.3 1218.7,144.5 1219.7,155.3 1220.7,164.8 1221.8,172.2 1222.8,171.4 1223.8,173.0 1224.8,175.5 1225.8,177.4 1226.9,174.9 1227.9,175.3 1229.0,167.0 1230.0,161.4 1231.3,173.2 1232.5,183.0 1233.5,182.8 1234.6,178.0 1235.6,172.2 1236.6,173.3 1237.6,176.1 1238.7,183.0 1240.2,164.5 1241.3,165.6 1242.5,166.5 1243.6,170.4 1244.8,173.7 1245.8,175.9 1246.8,184.5 1247.9,186.0 1248.9,183.4 1249.9,174.5 1250.9,170.7 1252.0,175.1 1253.0,189.0 1254.0,193.7 1255.2,184.6 1256.3,181.8 1257.5,172.6 1258.6,166.0 1259.7,174.1 1260.7,177.6 1261.7,187.6 1262.7,187.7 1263.8,193.5 1264.8,195.2 1265.8,189.3 1266.8,179.3 1267.8,169.1 1268.9,163.4 1270.0,153.8 1270.0,181.4 1271.2,167.8 1272.5,153.8 1273.7,155.6 1274.9,152.9 1276.1,156.8 1277.2,161.8 1278.2,161.8 1279.2,164.5 1280.4,168.7 1281.7,172.2 1282.7,164.4 1283.7,157.3 1284.8,149.1 1286.0,148.4 1287.2,142.9 1288.4,138.4 1289.6,136.5 1290.7,138.3 1291.9,136.9 1293.0,138.4 1294.1,139.8 1295.1,142.3 1296.1,146.1 1297.1,149.0 1298.2,150.0 1299.2,153.8 1300.5,157.6 1301.9,152.6 1303.2,155.3 1304.2,152.5 1305.2,148.4 1306.3,141.5 1307.3,143.1 1308.3,140.1 1309.3,139.9 1310.4,145.4 1311.4,155.2 1312.4,163.0 1313.6,160.8 1314.9,154.1 1316.1,150.7 1317.2,153.4 1318.4,153.4 1319.6,149.8 1320.7,153.8 1322.0,156.6 1323.4,162.5 1324.7,163.0 1325.9,167.2 1327.2,170.7 1328.4,173.7 1329.5,173.1 1330.7,181.4 1331.8,180.1 1333.0,183.0 1334.3,187.5 1335.7,187.6 1337.0,189.1 1338.2,186.3 1339.5,186.7 1340.7,183.0 1341.7,182.0 1342.7,177.0 1343.8,173.7 1344.8,173.7 1345.8,176.1 1346.8,175.3 1347.9,173.2 1348.9,170.8 1349.9,164.5 1351.1,164.9 1352.4,162.1 1353.6,159.9 1354.9,163.3 1356.3,171.0 1357.6,175.3 1358.9,172.3 1360.2,167.6 1361.6,163.0 1362.6,158.2 1363.6,154.2 1364.7,153.8 1365.9,157.6 1367.1,163.4 1368.3,169.1 1369.5,163.5 1370.6,166.3 1371.8,163.1 1373.0,158.4 1374.3,157.1 1375.6,152.6 1376.9,150.7 1378.2,155.9 1379.4,153.9 1380.6,158.4 1381.8,155.1 1382.9,150.5 1384.1,144.6 1385.2,139.9 1386.6,143.1 1387.9,143.0 1389.2,141.5 1390.5,147.8 1391.7,150.6 1392.9,152.2 1394.1,153.6 1395.2,153.7 1396.4,155.2 1397.5,159.9 1398.9,154.5 1400.2,155.2 1401.5,152.2 1402.6,150.2 1403.6,153.0 1404.7,151.1 1405.7,155.9 1406.8,155.3 1407.9,157.8 1409.1,156.6 1410.2,160.0 1411.4,161.4 1412.5,157.3 1413.7,151.3 1414.8,150.7 1416.0,146.1 1417.1,146.0 1418.3,142.7 1419.4,138.4 1420.6,133.8 1421.6,142.0 1422.6,142.9 1423.7,150.7 1424.9,151.8 1426.1,158.3 1427.3,161.4 1428.7,161.4 1430.0,158.6 1431.3,153.8 1432.7,146.2 1434.0,145.0 1435.3,138.4 1436.4,133.4 1437.4,129.9 1438.4,129.2 1439.6,132.1 1440.9,137.5 1442.1,144.5 1443.3,148.9 1444.6,151.5 1445.8,153.8 1447.1,158.1 1448.4,157.3 1449.8,161.4 1450.8,158.9 1451.8,148.8 1452.9,146.1 1453.9,144.0 1454.9,133.9 1455.9,132.2 1457.3,128.6 1458.6,127.9 1459.9,129.2 1461.1,128.1 1462.4,132.8 1463.6,130.7 1464.6,134.9 1465.7,140.7 1466.7,143.0 1467.8,142.1 1469.0,142.8 1470.1,142.3 1471.3,144.5 1472.8,149.1 1474.1,140.4 1475.3,135.3 1476.5,139.6 1477.7,139.1 1479.0,139.9 1480.0,136.7 1481.0,131.9 1482.0,129.2 1483.1,125.6 1484.1,125.9 1485.1,126.1 1486.3,124.1 1487.4,128.5 1488.6,130.1 1489.7,127.6 1490.8,128.9 1491.8,129.9 1492.8,126.3 1493.8,128.4 1494.9,128.9 1495.9,126.1 1503.6,125.5 1506.0,129.2 1508.2,132.9 1546.6,132.9 1549.0,137.5 1551.2,134.4 1583.5,134.4 1586.5,138.1 2038.3,138.1"/>
<polyline stroke="#ffa500" points="284.2,1066.6 502.3,1066.6 502.3,846.7 505.2,846.7 505.2,1066.6 507.1,1066.6 507.1,672.2 509.0,672.2 509.0,1066.6 518.4,1066.6 518.4,901.7 521.3,903.6 525.1,924.5 533.6,924.5 533.6,1066.6 539.7,1066.6 540.3,834.4 545.9,834.4 546.9,958.6 550.7,958.6 551.6,858.1 563.0,858.1 563.0,869.5 568.7,869.5 569.6,1066.6 574.4,1066.6 575.3,896.0 577.2,672.2 580.1,672.2 582.0,772.7 586.7,774.6 588.6,814.5 593.4,814.5 594.3,882.7 600.0,913.1 601.9,721.5 604.7,721.5 605.7,867.6 608.5,933.9 610.4,932.0 611.4,778.4 614.2,778.4 615.2,877.0 618.0,886.5 619.9,814.5 622.7,743.4 625.6,743.4 627.5,690.3 630.3,691.2 631.3,795.5 634.1,767.1 635.1,803.1 641.7,803.1 642.7,835.3 645.5,837.2 646.4,870.4 650.2,870.4 651.2,844.8 655.0,848.6 656.9,909.3 657.8,831.5 660.7,835.3 661.6,869.5 665.4,871.4 667.3,897.9 669.2,850.5 677.7,850.5 678.7,831.5 682.5,831.5 683.4,812.6 687.2,810.7 688.2,778.4 692.9,778.4 694.8,806.9 695.8,763.3 697.6,729.1 699.5,727.2 701.4,700.7 703.3,704.5 705.2,708.3 706.2,738.6 709.0,743.4 710.0,721.5 712.8,723.4 714.7,729.1 721.4,729.1 722.3,770.8 726.1,770.8 727.0,791.7 733.7,805.0 734.6,772.7 735.6,799.3 739.4,801.2 740.3,852.4 743.2,858.1 745.1,841.0 748.9,841.0 749.8,818.3 753.6,818.3 754.5,787.9 757.4,786.0 758.3,806.9 760.2,765.2 764.0,756.6 765.9,770.8 770.7,770.8 772.6,816.4 776.3,822.0 781.1,820.2 782.0,776.5 785.8,776.5 787.7,738.6 790.0,742.4 794.6,784.5 795.6,775.6 796.6,766.5 797.7,753.8 798.7,757.6 799.7,754.6 800.7,760.0 802.0,772.0 803.2,784.5 804.3,783.4 805.3,779.9 806.4,783.8 807.4,785.7 808.4,790.7 809.5,795.5 810.6,806.0 811.8,795.9 813.0,789.1 814.0,798.6 815.1,805.1 816.1,812.2 817.3,825.1 818.6,830.6 819.6,816.5 820.7,801.4 821.7,802.7 822.8,800.8 823.8,799.9 824.8,791.6 825.8,780.8 826.9,770.7 827.9,767.7 828.9,769.2 829.9,763.0 831.5,803.0 832.5,809.7 833.5,824.8 834.5,832.2 835.6,823.7 836.6,809.9 837.6,803.0 838.8,812.8 840.1,824.5 841.3,817.7 842.5,815.8 843.8,807.6 845.0,813.4 846.2,818.3 847.2,808.5 848.3,807.5 849.3,799.9 850.4,790.1 851.4,776.9 852.5,790.2 853.6,809.1 854.9,804.7 856.3,805.3 857.6,804.5 858.6,814.7 859.6,823.4 860.7,838.3 861.7,830.3 862.7,826.2 863.7,821.4 864.9,817.8 866.0,820.9 867.2,819.7 868.3,818.3 869.4,824.1 870.4,830.8 871.4,839.9 872.4,837.1 873.5,825.9 874.5,821.4 875.7,807.3 876.9,799.9 878.0,801.2 879.0,804.7 880.0,812.2 881.1,813.3 882.2,818.6 883.2,816.6 884.3,818.3 885.6,808.7 886.8,806.0 888.0,799.8 889.2,796.8 890.5,796.6 891.7,795.5 892.9,795.3 894.2,803.2 895.4,812.2 896.4,806.7 897.4,806.6 898.5,803.0 899.5,798.2 900.5,783.5 901.5,778.4 902.8,787.4 904.0,787.2 905.2,796.8 906.2,801.6 907.3,805.0 908.3,812.2 909.5,817.1 910.7,827.6 911.8,823.5 912.8,816.9 913.8,809.1 914.8,804.2 915.9,796.0 916.9,793.8 918.1,797.7 919.4,804.8 920.6,809.1 921.6,806.3 922.6,803.4 923.7,796.8 924.7,790.2 925.7,788.8 926.7,786.1 927.8,787.4 928.8,791.9 929.8,792.2 930.8,786.9 931.9,779.3 932.9,775.3 933.9,785.5 934.9,791.0 935.9,796.8 937.1,791.6 938.3,793.6 939.4,786.7 940.6,786.1 941.9,778.5 943.2,777.7 944.6,772.2 945.6,777.0 946.6,784.6 947.6,789.1 948.9,793.0 950.1,791.0 951.3,792.2 952.5,792.4 953.6,789.3 954.8,786.4 955.9,783.0 957.3,780.7 958.6,782.0 959.9,786.1 961.1,778.6 962.4,774.7 963.6,773.8 964.6,778.1 965.7,777.9 966.7,781.5 967.8,778.7 969.0,778.3 970.1,778.8 971.3,776.9 972.6,771.2 974.0,769.3 975.3,769.2 976.3,778.2 977.3,783.5 978.4,790.7 979.6,793.5 980.8,792.2 982.0,792.2 983.2,792.0 984.4,796.4 985.5,793.0 986.7,795.3 987.7,791.6 988.7,786.6 989.7,784.5 990.8,779.0 991.8,772.2 992.8,770.7 993.8,774.4 994.9,776.8 995.9,781.5 996.9,778.7 997.9,769.5 998.9,766.1 1000.0,774.4 1001.0,778.7 1002.0,783.0 1003.2,782.3 1004.3,787.6 1005.5,788.0 1006.6,789.1 1007.7,789.4 1008.7,785.4 1009.7,786.1 1010.9,786.5 1012.0,783.7 1013.2,781.9 1014.3,784.5 1015.4,793.1 1016.5,801.4 1017.8,798.7 1019.1,800.1 1020.5,801.4 1021.5,801.6 1022.5,802.2 1023.5,806.0 1024.6,808.7 1025.6,805.2 1026.6,807.8 1027.6,809.9 1028.7,809.1 1029.7,807.6 1030.8,805.1 1032.0,808.8 1033.1,807.1 1034.3,809.1 1035.5,803.4 1036.7,793.8 1038.0,798.2 1039.2,799.0 1040.4,801.4 1041.6,802.2 1042.7,800.0 1043.9,798.4 1045.0,795.3 1046.4,797.8 1047.7,793.1 1049.0,793.8 1050.1,788.2 1051.1,780.9 1052.1,778.4 1053.3,781.8 1054.6,779.5 1055.8,779.9 1056.8,780.9 1057.9,785.6 1058.9,786.1 1059.9,793.2 1060.9,797.1 1061.9,801.4 1063.2,805.8 1064.4,803.6 1065.6,807.6 1067.0,803.6 1068.3,799.7 1069.6,799.9 1070.7,801.8 1071.7,807.4 1072.7,807.6 1073.7,802.1 1074.8,799.5 1075.8,792.2 1076.8,790.4 1077.8,793.2 1078.9,795.3 1079.9,795.0 1080.9,797.9 1081.9,803.0 1082.9,802.1 1084.0,803.6 1085.0,799.9 1086.0,794.0 1087.0,789.8 1088.1,786.1 1089.4,790.5 1090.7,792.2 1092.1,796.8 1093.1,795.4 1094.1,789.8 1095.1,789.1 1096.4,792.5 1097.6,798.4 1098.8,806.0 1099.9,811.1 1100.9,814.0 1101.9,813.7 1102.9,803.7 1103.9,802.2 1105.0,792.2 1106.1,794.7 1107.3,794.9 1108.4,794.3 1109.6,793.8 1110.7,794.6 1111.9,791.7 1113.0,792.3 1114.2,795.3 1115.3,798.6 1116.5,800.1 1117.6,806.4 1118.8,809.1 1120.0,807.4 1121.1,810.0 1122.3,812.1 1123.4,810.7 1124.4,810.3 1125.5,806.6 1126.5,801.4 1127.6,797.7 1128.8,791.4 1129.9,783.5 1131.1,776.9 1132.1,783.7 1133.1,789.9 1134.2,798.4 1135.3,794.4 1136.5,795.0 1137.6,789.4 1138.8,786.1 1139.8,787.9 1140.8,795.0 1141.9,796.8 1143.0,794.0 1144.2,791.8 1145.3,790.0 1146.5,789.1 1147.6,789.7 1148.8,795.5 1149.9,796.8 1151.1,798.4 1152.2,799.0 1153.4,795.9 1154.5,795.2 1155.7,792.2 1156.8,789.9 1158.0,790.3 1159.1,794.8 1160.3,793.8 1161.3,792.5 1162.3,789.2 1163.4,784.5 1164.4,791.5 1165.4,803.6 1166.4,809.1 1167.6,806.1 1168.7,802.5 1169.9,804.9 1171.0,801.4 1172.2,799.9 1173.3,805.5 1174.5,801.3 1175.7,804.5 1176.7,805.6 1177.7,805.2 1178.7,805.8 1179.8,805.4 1180.8,805.2 1181.8,807.6 1183.0,808.5 1184.1,805.2 1185.3,803.4 1186.4,803.0 1187.4,798.0 1188.5,798.5 1189.5,792.2 1190.6,795.2 1191.8,797.1 1192.9,802.4 1194.1,804.5 1195.2,803.6 1196.4,804.4 1197.6,805.8 1198.7,803.0 1199.7,796.2 1200.8,790.5 1201.8,787.6 1202.9,788.0 1204.1,791.6 1205.2,791.1 1206.4,790.7 1207.5,791.8 1208.7,789.1 1209.8,788.6 1211.0,786.1 1212.1,785.0 1213.3,788.8 1214.5,788.8 1215.6,789.1 1216.8,784.8 1217.9,784.8 1219.1,782.3 1220.2,779.9 1221.4,778.0 1222.5,776.8 1223.7,779.4 1224.8,778.4 1226.1,778.1 1227.3,779.8 1228.5,776.9 1229.8,782.9 1231.2,791.0 1232.5,796.8 1233.7,795.3 1234.8,793.6 1236.0,792.2 1237.1,789.1 1238.1,788.4 1239.2,782.7 1240.2,779.9 1241.3,780.5 1242.5,785.1 1243.6,786.3 1244.8,786.1 1246.0,785.6 1247.1,782.3 1248.3,782.8 1249.4,783.0 1250.6,784.1 1251.7,778.3 1252.9,781.7 1254.0,778.4 1255.0,784.6 1256.1,792.8 1257.1,796.8 1258.2,795.5 1259.4,789.3 1260.6,785.9 1261.7,783.0 1262.9,786.3 1264.0,791.4 1265.2,792.4 1266.3,796.8 1267.5,800.1 1268.8,802.0 1270.0,801.4 1270.0,801.4 1271.2,798.9 1272.3,800.9 1273.5,799.2 1274.6,798.4 1275.8,793.1 1276.9,792.7 1278.1,791.1 1279.2,787.6 1280.4,784.9 1281.5,782.2 1282.7,784.2 1283.8,781.5 1284.9,786.4 1285.9,786.7 1286.9,790.7 1288.1,790.2 1289.2,788.6 1290.4,787.1 1291.5,789.1 1292.7,788.5 1293.8,786.3 1295.0,787.1 1296.1,784.5 1297.3,787.4 1298.4,786.1 1299.6,788.3 1300.7,792.2 1301.9,793.9 1303.0,793.0 1304.2,794.1 1305.3,793.8 1306.4,797.0 1307.4,796.0 1308.4,796.8 1309.6,795.6 1310.7,791.9 1311.9,791.1 1313.0,789.1 1314.0,793.0 1315.1,794.2 1316.1,795.3 1317.2,795.4 1318.4,791.2 1319.6,791.2 1320.7,790.7 1321.9,788.5 1323.0,786.7 1324.2,786.3 1325.3,786.1 1326.5,784.0 1327.6,784.5 1328.8,783.5 1329.9,784.5 1331.1,786.2 1332.2,785.4 1333.4,786.3 1334.5,787.6 1335.7,784.3 1336.8,783.1 1338.0,784.2 1339.1,783.0 1340.3,784.0 1341.5,786.4 1342.6,783.9 1343.8,786.1 1345.0,790.0 1346.2,792.1 1347.4,795.3 1348.8,795.6 1350.1,796.8 1351.4,796.8 1352.8,792.9 1354.1,787.9 1355.4,781.5 1356.7,778.6 1357.9,776.4 1359.1,775.3 1360.3,777.6 1361.4,776.1 1362.6,778.9 1363.7,778.4 1364.9,778.6 1366.0,781.8 1367.2,786.0 1368.3,786.1 1369.5,784.6 1370.6,784.9 1371.8,783.6 1373.0,783.0 1374.3,786.9 1375.6,790.0 1376.9,792.2 1378.2,789.0 1379.4,791.3 1380.6,787.6 1381.9,788.0 1383.1,789.7 1384.3,792.2 1385.7,792.1 1387.0,791.7 1388.3,793.8 1389.5,789.9 1390.6,791.3 1391.8,790.8 1392.9,787.6 1394.1,787.8 1395.2,787.9 1396.4,791.0 1397.5,789.1 1398.7,787.5 1399.8,787.5 1401.0,787.5 1402.1,784.5 1403.3,782.0 1404.4,783.1 1405.6,782.4 1406.8,783.0 1408.1,781.8 1409.4,785.4 1410.7,786.1 1412.0,783.9 1413.2,781.8 1414.4,781.5 1415.5,785.3 1416.5,786.5 1417.5,786.1 1418.5,788.6 1419.6,792.1 1420.6,798.4 1421.6,791.6 1422.6,786.4 1423.7,783.0 1424.8,782.9 1426.0,778.5 1427.1,780.0 1428.3,776.9 1429.4,775.7 1430.6,776.6 1431.7,779.9 1432.9,778.4 1434.0,780.5 1435.2,782.7 1436.3,787.4 1437.5,789.1 1438.6,789.0 1439.8,783.8 1440.9,786.5 1442.1,783.0 1443.2,780.9 1444.4,783.5 1445.6,782.8 1446.7,781.5 1447.7,780.1 1448.8,777.7 1449.8,773.8 1450.8,776.6 1451.8,776.0 1452.9,776.9 1453.9,779.8 1454.9,781.8 1455.9,786.1 1457.1,783.8 1458.2,783.4 1459.4,782.4 1460.5,783.0 1461.6,784.0 1462.6,789.0 1463.6,790.7 1464.8,786.9 1465.9,784.6 1467.1,786.1 1468.2,783.0 1469.4,781.2 1470.5,783.5 1471.7,783.3 1472.8,784.5 1474.0,785.1 1475.1,786.7 1476.3,788.5 1477.4,789.1 1478.6,787.4 1479.7,788.6 1480.9,786.2 1482.0,786.1 1483.1,789.6 1484.1,792.1 1485.1,792.2 1486.3,791.4 1487.4,788.2 1488.6,788.2 1489.7,786.7 1490.8,786.3 1491.9,786.7 1493.0,784.7 1494.1,786.1 1495.2,788.3 1496.3,788.2 1497.4,786.7 1503.6,785.2 1508.2,786.7 1511.2,788.2 1546.6,788.2 1549.7,792.8 1552.1,788.8 1583.5,788.8 1586.5,786.4 2038.3,786.4"/>
<polyline stroke="#8b0000" points="284.2,1065.0 566.8,1064.8 567.8,972.8 570.6,979.4 570.6,1064.8 573.4,1064.8 573.4,977.5 576.3,977.5 578.2,1064.8 581.0,1064.8 582.0,994.6 586.7,994.6 588.6,1002.2 593.4,1002.2 594.3,943.4 597.1,943.4 598.1,1006.0 601.9,1015.5 604.7,1019.3 605.7,1064.8 611.4,1064.8 612.3,1028.8 616.1,1028.8 620.8,1033.5 623.7,1064.8 632.2,1064.8 634.1,1038.2 640.8,1038.2 641.7,1009.8 648.3,1009.8 653.1,1012.6 655.9,1007.9 656.9,962.4 658.8,962.4 660.7,990.8 667.3,990.8 668.3,1017.4 680.6,1019.3 681.5,1043.0 687.2,1043.9 687.2,1064.8 691.0,1064.8 692.0,1043.9 702.4,1045.8 703.3,1064.8 711.9,1064.8 713.8,1047.7 721.4,1047.7 724.2,1030.6 728.9,1030.6 729.9,1047.7 733.7,1047.7 736.5,1017.4 741.3,1017.4 742.2,986.1 744.1,986.1 745.1,1006.0 747.9,1004.1 749.8,1034.4 756.4,1034.4 757.4,1021.2 774.5,1023.1 775.4,1011.7 779.2,1011.7 782.0,1036.3 785.8,1038.2 787.7,1051.5 790.0,1053.4 796.1,1053.4 797.1,1048.5 798.2,1047.2 799.2,1042.7 800.7,1053.4 801.8,1054.0 802.8,1052.5 803.8,1055.3 804.8,1054.9 805.9,1053.0 806.9,1053.4 807.9,1053.1 808.9,1053.9 810.0,1055.0 811.0,1050.5 812.0,1047.0 813.0,1042.7 814.0,1038.2 815.1,1037.7 816.1,1033.5 817.1,1034.5 818.1,1033.0 819.2,1032.8 820.2,1035.0 821.2,1034.3 822.2,1034.5 823.3,1033.1 824.3,1035.8 825.3,1034.2 826.3,1034.0 827.4,1034.0 828.4,1035.0 829.6,1039.9 830.8,1042.7 831.9,1037.1 832.9,1032.2 833.9,1025.8 834.9,1030.5 836.0,1035.8 837.0,1042.7 838.1,1035.4 839.1,1025.8 840.2,1031.7 841.2,1034.0 842.2,1039.6 843.4,1037.6 844.5,1035.0 845.7,1030.8 846.8,1027.3 848.1,1029.7 849.3,1034.1 850.5,1036.5 851.8,1031.5 853.2,1028.3 854.5,1025.8 855.7,1025.8 856.8,1024.7 858.0,1023.4 859.1,1024.2 860.7,1008.9 861.7,1013.0 862.7,1015.1 863.7,1019.6 864.8,1022.0 865.8,1025.6 866.8,1027.3 867.9,1038.0 869.0,1045.8 870.1,1044.4 871.2,1046.9 872.3,1047.2 873.4,1046.6 874.5,1045.8 875.5,1045.5 876.5,1045.1 877.6,1047.5 878.6,1046.7 879.6,1046.8 880.6,1046.0 881.7,1046.5 882.7,1046.4 883.7,1046.5 884.7,1047.5 885.8,1048.4 886.8,1047.3 887.8,1050.9 888.8,1053.8 889.9,1056.5 903.7,1056.5 904.7,1051.6 905.7,1049.3 906.8,1045.8 907.8,1043.9 908.8,1046.1 909.8,1044.2 910.9,1038.5 912.0,1035.0 913.1,1035.5 914.2,1035.8 915.3,1036.5 916.4,1036.5 917.5,1036.5 918.5,1040.6 919.6,1042.2 920.6,1045.8 921.6,1046.4 922.6,1049.8 923.7,1050.4 924.8,1050.6 926.0,1050.4 927.1,1049.8 928.3,1050.4 929.3,1048.5 930.3,1046.1 931.3,1042.7 932.4,1045.4 933.4,1046.0 934.4,1048.8 935.5,1049.7 936.6,1049.6 937.7,1050.1 938.8,1050.3 939.9,1051.0 941.0,1051.0 942.1,1050.4 943.3,1052.7 944.6,1056.5 945.6,1049.8 946.7,1044.2 947.8,1043.2 948.9,1044.2 950.0,1044.2 951.1,1046.3 952.2,1046.3 953.3,1045.0 954.4,1045.8 955.5,1047.1 956.7,1047.1 957.8,1046.8 959.0,1048.8 966.7,1048.8 967.8,1048.5 969.0,1045.3 970.1,1043.2 971.3,1042.7 972.4,1039.0 973.6,1034.8 974.7,1033.2 975.9,1028.9 977.1,1027.8 978.4,1025.8 979.6,1027.0 980.8,1030.4 982.0,1033.5 983.2,1030.8 984.4,1029.7 985.5,1027.8 986.7,1025.8 987.8,1025.4 988.9,1026.7 989.9,1025.8 991.0,1025.6 992.1,1027.8 993.2,1027.2 994.3,1027.3 995.4,1027.0 996.4,1027.8 997.4,1027.4 998.4,1028.3 999.5,1028.6 1000.5,1029.6 1001.5,1030.7 1002.5,1028.8 1003.6,1030.4 1004.6,1029.4 1005.6,1030.0 1006.6,1030.1 1007.7,1027.4 1008.7,1028.7 1009.7,1027.3 1010.7,1027.3 1011.8,1028.2 1012.8,1029.0 1013.8,1028.8 1014.8,1027.8 1015.9,1028.9 1017.0,1030.7 1018.2,1031.2 1019.3,1031.9 1020.5,1033.5 1021.6,1033.1 1022.8,1034.1 1023.9,1034.4 1025.1,1035.0 1026.1,1035.0 1027.1,1032.6 1028.1,1031.8 1029.2,1031.7 1030.2,1030.8 1031.2,1030.4 1032.2,1031.9 1033.3,1031.6 1034.3,1030.1 1035.3,1031.0 1036.3,1031.3 1037.4,1031.9 1038.4,1029.2 1039.4,1027.3 1040.4,1025.8 1041.5,1025.2 1042.5,1025.8 1043.5,1024.9 1044.5,1025.3 1045.6,1026.2 1046.6,1025.8 1047.7,1026.9 1048.9,1030.3 1050.0,1033.2 1051.2,1035.0 1052.2,1035.1 1053.2,1035.9 1054.3,1035.9 1055.3,1036.9 1056.3,1036.5 1057.3,1036.5 1058.5,1037.1 1059.6,1035.2 1060.8,1034.5 1061.9,1035.0 1063.1,1036.8 1064.3,1037.5 1065.4,1039.7 1066.6,1039.6 1067.7,1037.7 1068.9,1037.8 1070.0,1034.2 1071.2,1033.5 1072.3,1034.7 1073.5,1039.0 1074.6,1040.9 1075.8,1042.7 1076.9,1040.3 1078.1,1039.0 1079.2,1036.4 1080.4,1035.0 1081.5,1036.7 1082.7,1038.1 1083.8,1040.8 1085.0,1042.7 1086.0,1042.6 1087.0,1042.4 1088.1,1041.5 1089.1,1043.5 1090.1,1041.9 1091.1,1042.7 1092.3,1040.6 1093.4,1038.9 1094.6,1036.8 1095.8,1035.0 1097.0,1029.9 1098.2,1026.9 1099.4,1022.7 1100.5,1022.4 1101.5,1020.7 1102.5,1019.6 1103.7,1028.9 1105.0,1036.5 1106.0,1037.6 1107.0,1036.6 1108.0,1039.0 1109.1,1039.1 1110.1,1039.8 1111.1,1039.6 1112.1,1038.3 1113.2,1038.1 1114.2,1038.5 1115.2,1037.7 1116.2,1038.0 1117.3,1036.5 1118.4,1036.2 1119.6,1036.0 1120.7,1037.4 1121.9,1036.5 1123.0,1038.7 1124.2,1038.9 1125.3,1039.2 1126.5,1041.1 1127.6,1042.2 1128.8,1042.5 1129.9,1042.5 1131.1,1042.7 1132.1,1041.6 1133.1,1037.5 1134.2,1036.5 1135.3,1038.5 1136.5,1039.4 1137.6,1039.3 1138.8,1041.1 1139.9,1040.6 1141.1,1039.3 1142.2,1036.7 1143.4,1036.5 1144.4,1036.7 1145.4,1038.6 1146.5,1039.4 1147.5,1039.6 1148.5,1041.4 1149.5,1041.1 1150.9,1038.3 1152.2,1038.2 1153.5,1035.0 1154.6,1035.9 1155.6,1037.2 1156.7,1038.0 1157.7,1038.9 1158.8,1039.6 1159.9,1039.0 1161.1,1036.8 1162.2,1036.2 1163.4,1035.0 1164.4,1035.2 1165.4,1036.2 1166.4,1035.8 1167.5,1037.7 1168.5,1036.9 1169.5,1038.1 1170.5,1038.1 1171.6,1038.1 1172.6,1037.5 1173.6,1037.7 1174.6,1039.2 1175.7,1038.1 1176.8,1039.7 1177.8,1038.9 1178.9,1041.4 1180.0,1041.7 1181.1,1043.4 1182.2,1044.1 1183.3,1044.2 1184.5,1043.9 1185.6,1045.0 1186.8,1046.7 1187.9,1047.3 1189.1,1045.5 1190.3,1044.5 1191.4,1044.0 1192.6,1042.7 1193.6,1041.6 1194.6,1041.8 1195.6,1042.7 1196.7,1042.2 1197.7,1042.3 1198.7,1041.1 1199.9,1041.6 1201.0,1044.2 1202.2,1044.8 1203.3,1047.3 1204.3,1047.6 1205.4,1048.3 1206.4,1049.6 1207.4,1048.5 1208.4,1049.3 1209.5,1050.4 1210.6,1051.8 1211.8,1051.8 1212.9,1051.3 1214.1,1051.9 1227.9,1051.9 1228.9,1048.4 1229.9,1045.3 1231.0,1042.7 1232.0,1043.2 1233.0,1044.1 1234.0,1044.2 1235.1,1042.8 1236.1,1043.5 1237.1,1044.2 1238.3,1044.3 1239.4,1045.2 1240.6,1047.1 1241.7,1047.3 1242.8,1047.7 1243.9,1046.1 1245.0,1047.2 1246.1,1047.1 1247.2,1045.4 1248.3,1045.3 1249.4,1045.8 1250.4,1043.8 1251.5,1043.1 1252.5,1042.9 1253.5,1039.6 1254.5,1038.4 1255.6,1038.1 1256.7,1038.5 1257.9,1039.3 1259.0,1041.2 1260.2,1042.7 1261.2,1041.2 1262.2,1041.5 1263.2,1038.8 1264.3,1038.7 1265.3,1038.1 1266.3,1036.5 1267.5,1036.4 1268.8,1035.1 1270.0,1035.0 1270.0,1035.0 1271.2,1036.3 1272.5,1036.3 1273.7,1036.5 1275.0,1038.8 1276.4,1043.1 1277.7,1045.8 1278.8,1046.3 1280.0,1047.3 1281.1,1047.3 1282.3,1047.3 1283.3,1050.2 1284.3,1051.4 1285.4,1053.4 1286.5,1053.3 1287.6,1054.4 1288.7,1053.9 1289.8,1053.8 1290.9,1054.9 1292.0,1054.8 1293.0,1054.4 1294.1,1055.2 1295.2,1054.6 1296.3,1054.9 1297.4,1054.3 1298.5,1053.3 1299.6,1053.6 1300.7,1053.4 1301.9,1052.6 1303.0,1050.7 1304.2,1048.7 1305.3,1047.3 1306.4,1046.9 1307.4,1046.2 1308.4,1047.1 1309.4,1045.6 1310.5,1045.8 1311.5,1045.8 1312.6,1046.7 1313.8,1045.8 1314.9,1047.7 1316.1,1047.3 1317.3,1044.5 1318.6,1043.5 1319.8,1041.1 1321.1,1042.3 1322.4,1044.3 1323.8,1045.8 1324.8,1045.3 1325.8,1045.4 1326.9,1045.5 1327.9,1046.0 1328.9,1045.9 1329.9,1045.8 1331.1,1045.6 1332.2,1043.6 1333.4,1043.0 1334.5,1042.7 1335.6,1042.6 1336.6,1042.4 1337.6,1041.1 1338.6,1042.2 1339.7,1042.5 1340.7,1042.9 1341.7,1042.6 1342.7,1043.0 1343.8,1044.2 1351.4,1044.2 1352.5,1046.3 1353.5,1048.3 1354.5,1050.4 1355.5,1051.1 1356.6,1050.4 1357.6,1051.9 1358.6,1052.0 1359.6,1051.4 1360.7,1051.9 1361.8,1053.0 1363.0,1052.6 1364.1,1054.4 1365.3,1055.0 1366.3,1053.4 1367.3,1053.8 1368.3,1052.2 1369.4,1052.8 1370.4,1052.1 1371.4,1050.4 1372.6,1050.9 1373.7,1048.8 1374.9,1048.7 1376.0,1048.8 1377.2,1050.8 1378.3,1051.6 1379.5,1053.6 1380.6,1055.0 1381.7,1054.3 1382.7,1054.1 1383.7,1052.0 1384.7,1051.7 1385.8,1051.1 1386.8,1050.4 1387.8,1051.3 1388.8,1050.7 1389.9,1050.8 1390.9,1050.6 1391.9,1050.8 1392.9,1051.3 1394.0,1050.2 1395.0,1050.1 1396.0,1049.7 1397.0,1050.1 1398.0,1049.2 1399.1,1049.4 1400.1,1049.3 1401.1,1049.9 1402.1,1049.7 1403.2,1050.0 1404.2,1050.2 1405.2,1051.3 1406.2,1051.0 1407.3,1050.0 1408.3,1050.4 1409.3,1050.5 1410.3,1048.9 1411.4,1048.8 1412.4,1049.0 1413.4,1049.1 1414.4,1049.2 1415.5,1049.0 1416.5,1049.6 1417.5,1050.4 1418.5,1049.7 1419.6,1049.4 1420.6,1049.1 1421.6,1049.8 1422.6,1050.5 1423.7,1049.4 1424.7,1049.1 1425.7,1049.8 1426.7,1050.4 1427.8,1050.2 1428.8,1051.5 1429.8,1051.9 1431.0,1053.0 1432.1,1054.1 1433.3,1054.4 1434.4,1055.6 1435.4,1054.7 1436.5,1054.3 1437.5,1053.8 1438.5,1053.0 1439.5,1053.9 1440.6,1052.5 1441.6,1052.4 1442.6,1053.8 1443.6,1053.7 1444.7,1053.8 1445.7,1054.4 1446.7,1054.4 1447.7,1053.2 1448.8,1054.3 1449.8,1052.2 1450.8,1052.9 1451.8,1052.3 1452.9,1051.9 1453.9,1051.9 1454.9,1052.7 1455.9,1054.1 1456.9,1054.2 1458.0,1054.6 1459.0,1055.6 1460.2,1054.2 1461.3,1054.0 1462.5,1052.4 1463.6,1051.9 1464.8,1051.3 1465.9,1052.4 1467.1,1052.1 1468.2,1052.5 1469.4,1051.1 1470.5,1050.1 1471.7,1050.4 1472.8,1049.4 1473.9,1049.2 1474.9,1049.0 1475.9,1050.1 1476.9,1049.9 1477.9,1051.1 1479.0,1050.4 1480.0,1051.3 1481.0,1051.7 1482.0,1053.0 1483.1,1054.4 1484.1,1054.7 1485.1,1055.6 1486.1,1055.0 1487.2,1056.2 1488.2,1056.7 1489.2,1056.2 1490.2,1056.4 1491.3,1056.5 1506.6,1056.5 1509.7,1053.4 1546.6,1053.4 1549.7,1050.4 1552.7,1053.4 2038.3,1053.4"/>
</g>
<rect x="284.2" y="23.5" width="1743.8" height="1042.6" fill="none" stroke="#000" stroke-width="2.2"/>
<g font-size="74" fill="#000">
<text x="257.5" y="1089.5" text-anchor="end">0.0</text>
<text x="257.5" y="893.8" text-anchor="end">0.1</text>
<text x="257.5" y="698.1" text-anchor="end">0.2</text>
<text x="257.5" y="502.4" text-anchor="end">0.3</text>
<text x="257.5" y="306.7" text-anchor="end">0.4</text>
<text x="257.5" y="111.0" text-anchor="end">0.5</text>
<text x="283.7" y="1150.0" text-anchor="middle">0</text>
<text x="632.5" y="1150.0" text-anchor="middle">500</text>
<text x="981.2" y="1150.0" text-anchor="middle">1000</text>
<text x="1330.0" y="1150.0" text-anchor="middle">1500</text>
<text x="1678.7" y="1150.0" text-anchor="middle">2000</text>
<text x="1971.5" y="1150.0" text-anchor="middle">2500</text>
</g>
<g font-size="72" text-anchor="end">
<text x="2004" y="110.0" fill="#2bb04c">hexagons</text>
<text x="2004" y="388.6" fill="#1e90ff">pentagons</text>
<text x="2002.5" y="756.3" fill="#ffa500">heptagons</text>
<text x="2004" y="937.8" fill="#0000ff">quadrilaterals</text>
<text x="2000" y="1032.4" fill="#8b0000">octagons</text>
</g>
<text font-size="108.3" text-anchor="middle" class="yl" transform="translate(108.2,577.5) rotate(-90)">Specific number of cells</text>
<text font-size="109" text-anchor="middle" x="1169" y="1282.0">Time, <tspan font-style="italic">t</tspan></text>
<text font-size="83" text-anchor="middle" x="1041" y="1420">(<tspan font-weight="bold">a</tspan>)</text>
<clipPath id="clipb"><rect x="282.1" y="1485.4" width="1743.9" height="1045.3999999999999"/></clipPath>
<g stroke="#000" stroke-width="2" fill="none">
<line x1="282.1" y1="2336.3" x2="302.70000000000005" y2="2336.3"/>
<line x1="282.1" y1="2140.5" x2="302.70000000000005" y2="2140.5"/>
<line x1="282.1" y1="1944.7" x2="302.70000000000005" y2="1944.7"/>
<line x1="282.1" y1="1748.9" x2="302.70000000000005" y2="1748.9"/>
<line x1="282.1" y1="1553.1" x2="302.70000000000005" y2="1553.1"/>
<line x1="630.6" y1="2532.1" x2="630.6" y2="2512.1"/>
<line x1="979.6" y1="2532.1" x2="979.6" y2="2512.1"/>
<line x1="1328.6" y1="2532.1" x2="1328.6" y2="2512.1"/>
<line x1="1677.6" y1="2532.1" x2="1677.6" y2="2512.1"/>
</g>
<g clip-path="url(#clipb)" fill="none" stroke-width="6.2" stroke-linejoin="round" stroke-linecap="round">
<polyline stroke="#0000ff" points="281.6,2533.7 529.8,2533.7 529.8,1692.8 550.5,1692.8 550.8,2044.1 551.2,1879.6 576.0,1879.6 578.9,1818.9 586.5,1818.9 588.4,1879.6 600.7,1879.6 601.6,1778.2 613.0,1778.2 615.9,1778.2 616.8,1900.0 616.8,2042.2 621.5,2042.2 621.9,2099.1 625.3,2099.1 625.7,2120.0 628.2,2120.0 628.6,2207.2 630.1,2207.2 630.6,2120.0 632.0,2120.0 632.4,2222.4 633.3,2222.4 633.9,2237.5 639.6,2237.5 641.5,2252.7 643.4,2266.0 646.2,2273.6 650.9,2281.2 653.8,2298.2 657.6,2298.2 658.5,2305.4 688.9,2305.4 688.9,2252.7 697.4,2252.7 698.3,2195.8 702.1,2193.9 703.1,2269.8 704.0,2205.3 705.4,2279.3 706.9,2205.3 707.8,2205.3 708.8,2279.3 709.7,2226.2 711.6,2285.0 713.5,2226.2 714.5,2286.9 716.4,2296.3 727.7,2296.3 728.7,2245.1 727.7,2197.7 731.5,2194.9 733.4,2205.3 741.0,2205.3 742.0,2173.1 745.8,2171.2 747.6,2222.4 749.5,2241.3 754.3,2250.8 760.0,2241.3 760.9,2167.4 764.7,2167.4 765.7,2211.0 766.6,2167.4 769.5,2167.4 770.4,2211.0 774.2,2260.3 777.0,2300.1 778.9,2326.7 779.0,2326.6 779.7,2338.8 781.6,2343.4 794.5,2348.0 797.2,2349.9 800.9,2359.1 805.5,2364.6 811.1,2372.0 812.9,2407.0 816.6,2443.9 821.2,2444.8 823.0,2366.4 826.7,2366.4 828.6,2396.0 834.1,2399.6 835.9,2429.1 838.7,2414.4 841.4,2362.2 843.3,2324.3 845.2,2348.9 846.6,2325.3 848.0,2301.5 849.9,2271.2 851.8,2299.6 853.7,2326.2 855.6,2305.3 857.0,2319.2 858.4,2330.0 860.3,2310.1 862.2,2335.7 863.7,2337.2 865.1,2335.7 866.0,2358.4 867.5,2360.0 868.9,2366.0 870.8,2348.9 872.2,2346.6 873.6,2348.9 874.6,2371.7 876.5,2379.3 878.4,2394.5 880.3,2400.1 881.5,2402.0 882.8,2403.0 884.0,2402.0 885.0,2432.4 886.9,2411.5 888.3,2417.3 889.7,2419.1 891.6,2413.4 893.1,2417.0 894.5,2421.0 895.4,2394.5 896.7,2393.9 898.0,2396.7 899.2,2394.5 900.2,2409.6 901.4,2411.2 902.7,2413.8 904.0,2413.4 905.9,2451.3 907.8,2460.8 909.6,2472.2 910.8,2472.3 912.0,2472.9 913.2,2471.2 914.4,2472.2 916.3,2487.4 918.2,2487.4 919.1,2453.2 920.4,2451.6 921.7,2454.9 922.9,2453.2 923.9,2466.5 925.1,2465.5 926.4,2464.5 927.7,2466.5 929.6,2457.0 931.0,2453.1 932.4,2447.5 934.3,2470.3 935.2,2451.3 936.7,2446.3 938.1,2443.8 940.0,2455.1 947.6,2455.1 949.5,2468.4 950.6,2467.7 951.7,2469.8 952.9,2470.1 954.0,2470.0 955.2,2469.4 956.3,2468.1 957.5,2472.0 958.7,2469.9 959.9,2470.3 960.8,2451.3 962.3,2450.3 963.7,2450.4 965.6,2443.8 967.0,2439.8 968.4,2436.2 969.5,2435.5 970.6,2436.5 971.7,2436.3 972.8,2435.2 973.9,2436.7 974.9,2439.0 976.0,2437.1 977.2,2435.9 978.4,2435.6 979.6,2438.7 980.8,2437.1 981.7,2446.6 982.8,2447.7 983.9,2445.1 985.0,2449.0 986.0,2445.4 987.1,2448.9 988.2,2449.4 989.3,2447.5 996.9,2447.5 998.1,2445.7 999.4,2446.5 1000.7,2447.5 1001.6,2457.0 1012.0,2457.0 1013.5,2452.7 1014.9,2449.4 1016.8,2440.9 1027.2,2440.9 1028.2,2434.3 1029.6,2436.4 1031.0,2434.3 1032.0,2426.7 1033.9,2436.2 1035.0,2437.7 1036.2,2438.1 1037.4,2437.1 1038.6,2437.1 1040.5,2428.6 1041.9,2429.9 1043.3,2430.5 1045.2,2436.2 1047.1,2421.9 1048.3,2420.0 1049.5,2423.3 1050.7,2420.0 1051.9,2421.0 1053.0,2420.9 1054.0,2419.4 1055.1,2422.8 1056.2,2423.2 1057.3,2423.1 1058.4,2421.7 1059.5,2421.9 1061.4,2432.4 1062.8,2432.7 1064.2,2436.2 1065.1,2447.5 1066.3,2449.3 1067.5,2446.6 1068.7,2448.6 1069.9,2447.5 1070.8,2440.0 1071.9,2441.2 1072.9,2441.4 1073.9,2440.2 1075.0,2438.9 1076.0,2439.8 1077.0,2439.7 1078.1,2438.8 1079.1,2441.2 1080.1,2440.2 1081.2,2439.2 1082.2,2440.9 1083.2,2449.4 1084.6,2448.5 1086.0,2451.3 1087.9,2442.8 1100.2,2442.8 1102.1,2453.2 1103.2,2455.1 1104.2,2454.0 1105.2,2453.5 1106.2,2455.2 1107.3,2453.5 1108.3,2451.9 1109.3,2452.7 1110.3,2454.0 1111.4,2455.7 1112.4,2454.7 1113.4,2454.0 1114.5,2454.2 1115.5,2453.6 1116.6,2453.8 1117.7,2455.1 1118.8,2455.3 1119.9,2453.4 1121.0,2454.8 1122.0,2455.1 1123.0,2447.5 1124.4,2446.6 1125.8,2449.4 1126.8,2456.1 1127.9,2457.9 1128.9,2458.6 1130.0,2457.0 1131.2,2456.7 1132.3,2455.6 1133.5,2453.0 1134.6,2453.5 1135.6,2451.9 1136.7,2449.0 1137.7,2447.4 1138.7,2445.3 1139.7,2442.8 1140.8,2442.8 1151.5,2442.8 1152.7,2442.3 1153.8,2445.4 1155.0,2442.3 1156.1,2444.3 1157.1,2436.7 1158.2,2430.3 1159.2,2425.9 1160.3,2425.5 1161.5,2426.7 1162.7,2425.7 1163.8,2424.3 1164.8,2421.4 1165.9,2419.5 1166.9,2419.7 1168.0,2421.4 1169.2,2419.5 1170.3,2422.0 1171.5,2421.2 1172.5,2418.5 1173.5,2417.0 1174.6,2415.1 1175.6,2414.3 1176.6,2413.0 1177.6,2413.4 1178.7,2414.0 1179.7,2413.1 1180.7,2413.6 1181.7,2413.3 1182.8,2410.7 1183.8,2408.9 1184.9,2411.8 1186.1,2415.3 1187.2,2419.9 1188.4,2422.8 1189.5,2419.8 1190.7,2416.2 1191.8,2415.4 1193.0,2412.0 1194.1,2410.3 1195.2,2412.7 1196.3,2410.3 1197.4,2409.4 1198.5,2410.0 1199.6,2409.4 1200.7,2410.5 1201.9,2408.2 1203.1,2407.4 1204.4,2406.2 1205.6,2409.5 1206.8,2408.9 1208.1,2407.6 1209.3,2408.8 1210.5,2408.9 1212.4,2435.1 1213.4,2436.7 1214.4,2435.1 1215.5,2435.0 1216.5,2436.6 1217.6,2435.1 1218.7,2423.5 1219.7,2415.1 1220.8,2419.5 1221.8,2422.5 1222.8,2425.9 1224.0,2424.1 1225.3,2422.8 1226.5,2428.3 1227.7,2432.6 1229.0,2439.7 1230.3,2436.5 1231.6,2432.1 1233.0,2428.9 1234.0,2434.1 1235.0,2437.6 1236.0,2441.2 1237.4,2434.9 1238.7,2430.3 1240.0,2425.9 1241.2,2425.7 1242.5,2425.2 1243.7,2425.9 1244.7,2424.0 1245.8,2419.6 1246.8,2416.6 1247.9,2416.0 1249.1,2417.3 1250.2,2417.6 1251.4,2419.7 1252.4,2421.9 1253.4,2422.7 1254.5,2424.3 1255.5,2425.1 1256.5,2427.1 1257.5,2430.5 1258.7,2428.8 1259.8,2428.1 1261.0,2428.0 1262.1,2425.9 1263.3,2428.8 1264.4,2430.2 1265.6,2432.0 1266.8,2433.5 1267.8,2432.0 1268.8,2427.1 1269.8,2424.3 1271.0,2425.5 1272.1,2428.9 1273.3,2429.4 1274.4,2430.5 1275.7,2421.4 1276.9,2413.6 1278.1,2412.4 1279.4,2409.5 1280.6,2407.4 1281.6,2406.9 1282.6,2407.9 1283.7,2407.4 1284.7,2409.3 1285.7,2411.9 1286.7,2416.6 1287.8,2421.9 1288.8,2425.8 1289.8,2432.0 1290.8,2436.7 1291.9,2440.5 1292.9,2444.3 1294.4,2447.4 1302.1,2447.4 1303.3,2443.8 1304.6,2442.8 1305.8,2445.0 1307.0,2447.0 1308.2,2450.4 1309.3,2449.4 1310.3,2449.8 1311.3,2449.1 1312.3,2448.9 1313.4,2448.9 1314.4,2450.4 1315.4,2449.1 1316.4,2445.7 1317.5,2444.3 1318.5,2443.8 1319.6,2445.5 1320.7,2445.1 1321.8,2443.4 1322.8,2444.4 1323.9,2446.4 1325.0,2444.7 1326.1,2446.7 1327.1,2445.0 1328.2,2445.8 1329.3,2447.7 1330.4,2446.9 1331.5,2447.6 1332.6,2445.2 1333.7,2448.1 1334.8,2448.0 1335.9,2447.4 1336.9,2446.9 1337.9,2443.6 1339.0,2441.2 1340.5,2433.5 1352.8,2433.5 1353.8,2431.3 1354.9,2430.8 1355.9,2430.5 1357.0,2430.8 1358.1,2432.1 1359.2,2430.7 1360.3,2432.8 1361.4,2430.5 1362.5,2430.3 1363.6,2432.0 1364.6,2434.4 1365.6,2433.5 1366.6,2436.6 1367.8,2436.4 1368.9,2435.6 1370.1,2432.3 1371.2,2432.0 1372.3,2435.5 1373.3,2437.1 1374.3,2438.1 1375.3,2439.6 1376.4,2440.7 1377.4,2441.2 1378.4,2439.9 1379.4,2435.4 1380.5,2433.5 1381.6,2433.0 1382.8,2434.8 1383.9,2435.5 1385.1,2436.6 1398.9,2436.6 1400.0,2436.4 1401.1,2433.5 1402.4,2433.6 1403.7,2434.1 1405.0,2433.5 1406.1,2431.7 1407.1,2430.4 1408.1,2430.5 1409.3,2430.1 1410.4,2432.2 1411.6,2433.8 1412.7,2433.5 1437.3,2433.5 1438.3,2431.7 1439.4,2430.7 1440.4,2430.5 1441.5,2429.4 1442.7,2428.1 1443.8,2426.1 1445.0,2425.9 1446.1,2426.4 1447.3,2424.6 1448.5,2425.2 1449.6,2424.3 1450.8,2423.6 1452.1,2423.6 1453.3,2421.2 1454.3,2425.2 1455.3,2425.3 1456.4,2428.9 1457.4,2429.3 1458.4,2427.1 1459.4,2427.5 1460.4,2427.5 1461.4,2428.6 1462.5,2428.3 1463.5,2427.3 1464.5,2428.0 1465.5,2427.5 1466.5,2427.4 1468.0,2424.3 1469.1,2425.4 1470.1,2426.0 1471.1,2424.7 1472.1,2424.3 1473.2,2424.1 1474.2,2424.9 1475.2,2424.1 1476.2,2426.6 1477.3,2425.9 1478.3,2428.2 1479.3,2429.1 1480.3,2428.9 1481.4,2428.6 1482.4,2428.0 1483.4,2425.9 1492.6,2425.9 1493.7,2426.2 1494.7,2422.8 1495.7,2422.8 1496.7,2425.2 1497.8,2425.4 1498.8,2425.9 1499.8,2425.5 1500.8,2424.0 1501.9,2424.3 1512.6,2424.3 1513.8,2423.9 1514.9,2423.6 1516.1,2424.1 1517.2,2422.8 1518.2,2423.0 1519.3,2424.6 1520.3,2425.9 1528.0,2425.9 1529.1,2424.8 1530.3,2424.9 1531.4,2422.2 1532.6,2422.8 1533.7,2421.9 1534.9,2421.4 1536.0,2421.1 1537.2,2419.7 1538.3,2419.1 1539.4,2418.2 1540.5,2418.1 1541.6,2418.1 1542.7,2417.7 1543.8,2417.4 1544.9,2418.2 1546.0,2417.9 1547.2,2418.4 1548.3,2418.3 1549.5,2416.6 1550.5,2416.7 1551.5,2416.6 1552.6,2415.3 1553.6,2415.4 1554.6,2413.5 1555.6,2413.6 1556.7,2413.1 1557.8,2412.9 1558.9,2415.5 1560.0,2413.5 1561.1,2415.2 1562.2,2414.5 1563.3,2415.1 1564.3,2414.4 1565.4,2415.5 1566.4,2415.1 1567.4,2416.4 1568.4,2416.4 1569.5,2416.6 1570.6,2418.8 1571.8,2418.7 1572.9,2418.1 1574.1,2419.7 1575.2,2421.8 1576.4,2421.3 1577.5,2422.2 1578.7,2422.8 1579.8,2423.9 1581.0,2424.4 1582.1,2423.8 1583.3,2425.9 1584.4,2427.5 1585.6,2428.1 1586.7,2428.0 1587.9,2428.9 1589.1,2427.2 1590.2,2426.3 1591.4,2426.0 1592.5,2424.3 1593.7,2424.0 1594.8,2424.4 1596.0,2424.3 1597.1,2424.3 1598.3,2423.1 1599.4,2422.1 1600.6,2420.8 1601.7,2421.2 1602.8,2419.5 1603.8,2417.9 1604.8,2418.2 1606.0,2416.9 1607.1,2417.1 1608.3,2415.4 1609.4,2413.6 1610.4,2414.3 1611.5,2412.9 1612.5,2413.2 1613.5,2412.5 1614.5,2413.6 1615.6,2412.0 1616.7,2412.4 1617.9,2412.5 1619.0,2412.7 1620.2,2412.0 1621.4,2410.6 1622.6,2410.3 1623.9,2411.0 1625.2,2409.6 1626.5,2411.2 1627.7,2409.7 1629.0,2414.6 1630.3,2417.5 1631.6,2418.7 1632.9,2421.2 1634.2,2421.4 1635.5,2420.0 1636.8,2418.4 1638.1,2418.8 1639.4,2420.5 1640.7,2423.9 1641.9,2422.2 1643.2,2420.5 1644.5,2418.8 1645.8,2422.6 1647.1,2425.2 1648.2,2423.2 1649.3,2419.5 1650.5,2417.5 1651.8,2422.3 1653.0,2425.2 1654.1,2426.1 1655.1,2428.1 1656.1,2430.4 1657.4,2433.5 1658.7,2435.6 1660.0,2434.6 1661.3,2436.1 1662.6,2435.6 1663.9,2437.6 1665.2,2439.4 1666.5,2439.4 1667.8,2439.4 1669.0,2440.7 1670.3,2440.7 1671.6,2443.3 1672.9,2442.1 1674.2,2442.0 1675.5,2440.7 1676.8,2441.4 1678.1,2444.6 1682.0,2447.2 1685.8,2445.9 1688.4,2448.5 1692.3,2444.6 1694.9,2448.5 1702.6,2448.5 1706.5,2440.7 1709.1,2443.3 1712.9,2442.0 1716.8,2440.7 1723.3,2442.0 1728.4,2443.3 1741.3,2443.3 1743.9,2439.4 2033.0,2439.4"/>
<polyline stroke="#1e90ff" points="281.6,2533.7 339.8,2533.7 339.8,1400.0 339.8,1879.6 353.4,1879.6 353.4,1552.9 441.6,1552.9 441.6,2140.8 529.8,2140.8 529.8,1973.0 549.0,1973.0 549.5,1552.9 550.8,1552.9 550.8,1879.6 576.0,1879.6 576.0,1641.6 586.5,1641.6 586.5,1552.9 600.7,1552.9 600.7,1627.4 614.9,1627.4 615.9,1552.9 616.2,1881.5 617.4,1552.9 618.7,1726.0 620.0,1552.9 621.5,1726.0 623.1,1552.9 624.4,1726.0 625.7,1552.9 627.2,1811.3 628.7,1552.9 630.1,1811.3 631.0,1552.9 632.0,1600.8 633.3,1830.3 634.8,1600.8 636.3,1754.5 637.1,1693.8 638.6,1552.9 643.4,1552.9 643.9,1599.0 649.0,1599.0 650.0,1552.9 651.9,1552.9 652.8,1671.0 655.7,1671.0 656.6,1628.3 690.8,1628.3 690.8,1764.9 697.4,1764.9 700.2,1764.9 701.2,1879.6 704.0,1879.6 706.9,1712.7 710.7,1737.4 713.5,1737.4 714.5,1702.3 729.6,1702.3 730.6,1805.7 732.5,1691.9 734.4,1716.5 741.0,1716.5 742.9,1758.2 744.8,1707.0 747.6,1800.0 749.5,1699.5 753.3,1699.5 755.2,1720.3 758.1,1720.3 759.0,1740.2 762.8,1741.2 764.7,1803.8 768.5,1803.8 769.5,1733.6 772.3,1724.1 770.4,1636.9 773.3,1593.3 776.1,1593.3 777.0,1612.2 778.0,1671.0 779.9,1648.3 782.7,1648.3 783.7,1704.2 792.2,1704.2 793.2,1720.3 798.9,1720.3 800.7,1641.6 803.6,1641.6 804.5,1655.8 806.4,1741.2 808.3,1743.1 810.2,1663.4 812.1,1648.3 814.0,1705.1 815.9,1625.5 817.8,1627.4 818.8,1669.1 820.7,1653.9 822.6,1731.7 825.4,1732.6 827.3,1648.3 829.2,1648.3 831.1,1684.3 833.0,1697.6 834.9,1655.8 838.7,1655.8 840.0,1678.6 840.4,1727.4 841.4,1797.6 843.3,1854.5 844.7,1868.5 846.1,1873.4 848.0,1894.3 849.9,1877.2 851.2,1881.2 852.4,1882.1 853.7,1881.0 855.6,1839.3 857.0,1839.5 858.4,1839.3 859.4,1928.4 861.3,1928.4 863.2,1862.0 864.6,1860.2 866.0,1860.1 867.0,1835.5 868.2,1839.2 869.5,1834.1 870.8,1833.6 872.2,1835.8 873.6,1833.6 875.5,1850.7 877.4,1850.7 878.8,1833.2 880.3,1824.1 882.1,1674.3 883.6,1670.4 885.0,1674.3 885.9,1712.2 887.4,1713.2 888.8,1712.2 890.7,1744.5 891.9,1743.8 893.2,1746.0 894.5,1752.0 895.9,1765.8 897.3,1778.6 898.3,1793.8 900.2,1778.6 902.1,1776.7 904.0,1801.4 904.9,1735.0 906.3,1729.7 907.8,1733.1 908.9,1738.1 910.1,1750.2 911.3,1755.1 912.5,1759.6 913.4,1771.0 914.9,1766.6 916.3,1769.1 917.7,1755.1 919.1,1735.0 921.0,1742.6 922.3,1744.8 923.6,1739.5 924.8,1742.6 925.8,1752.0 927.0,1755.2 928.1,1754.4 929.3,1749.0 930.5,1750.2 931.9,1749.1 933.4,1740.7 934.8,1744.2 936.2,1740.7 937.6,1749.4 939.0,1763.4 940.9,1802.3 942.4,1791.5 943.8,1788.1 945.2,1776.1 946.6,1767.2 947.8,1770.0 949.0,1765.8 950.2,1768.9 951.4,1767.2 953.3,1772.0 955.2,1771.0 957.1,1759.6 959.0,1776.7 959.9,1807.0 961.3,1811.9 962.7,1820.3 963.7,1807.0 965.1,1810.1 966.5,1807.0 967.5,1829.8 968.7,1832.5 970.0,1826.4 971.3,1829.8 972.2,1863.0 973.5,1860.4 974.8,1865.4 976.0,1863.0 977.9,1848.8 979.8,1825.1 980.9,1828.8 982.1,1824.9 983.2,1821.0 984.4,1826.5 985.5,1825.1 987.4,1829.8 988.8,1832.6 990.2,1834.5 991.3,1833.7 992.4,1835.1 993.4,1833.7 994.5,1832.1 995.6,1838.8 996.6,1836.9 997.7,1835.9 998.8,1834.5 1000.7,1840.2 1002.6,1817.5 1003.6,1815.6 1004.6,1816.1 1005.6,1816.9 1006.7,1820.1 1007.7,1818.9 1008.7,1820.0 1009.8,1816.1 1010.8,1813.9 1011.8,1818.7 1012.8,1815.3 1013.9,1816.8 1014.9,1817.5 1015.8,1831.7 1017.0,1833.0 1018.1,1833.6 1019.3,1830.4 1020.4,1831.9 1021.5,1831.7 1022.5,1859.2 1023.7,1862.1 1025.0,1855.8 1026.3,1860.1 1028.2,1863.9 1029.6,1858.3 1031.0,1860.1 1032.4,1850.2 1033.9,1839.3 1035.1,1836.6 1036.4,1841.8 1037.6,1839.3 1039.5,1854.5 1041.0,1853.8 1042.4,1854.5 1044.3,1827.9 1045.7,1831.8 1047.1,1835.5 1048.1,1851.6 1049.2,1850.2 1050.3,1849.2 1051.4,1850.7 1052.5,1854.8 1053.6,1847.0 1054.7,1850.7 1055.7,1835.5 1057.1,1838.3 1058.5,1835.5 1059.5,1824.1 1060.9,1832.7 1062.3,1843.1 1064.2,1805.1 1066.1,1787.1 1067.3,1790.7 1068.5,1783.7 1069.7,1786.2 1070.8,1787.1 1071.8,1805.1 1072.9,1801.1 1074.0,1802.0 1075.0,1807.6 1076.1,1803.0 1077.2,1809.1 1078.3,1801.9 1079.4,1805.1 1080.3,1837.4 1081.7,1827.9 1083.2,1818.4 1085.1,1829.8 1086.2,1828.1 1087.3,1828.6 1088.5,1831.4 1089.6,1827.7 1090.7,1829.8 1091.7,1817.5 1092.8,1816.2 1093.9,1814.5 1094.9,1818.5 1096.0,1815.4 1097.1,1817.9 1098.2,1816.8 1099.3,1817.5 1101.2,1814.6 1102.1,1793.8 1103.5,1797.0 1105.0,1795.7 1105.9,1812.7 1107.0,1813.1 1108.1,1811.1 1109.2,1808.9 1110.3,1815.0 1111.4,1813.1 1112.6,1810.8 1114.5,1820.3 1115.9,1823.9 1117.3,1820.3 1118.2,1803.3 1119.5,1802.6 1120.8,1802.8 1122.0,1804.2 1123.9,1812.7 1125.8,1795.7 1126.9,1792.7 1127.9,1800.5 1129.0,1798.4 1130.0,1797.6 1131.2,1798.7 1132.5,1795.0 1133.7,1798.9 1134.8,1797.8 1135.8,1802.4 1136.9,1797.1 1138.0,1795.9 1139.1,1799.5 1140.1,1803.6 1141.2,1803.7 1142.3,1800.5 1143.3,1799.6 1144.3,1792.6 1145.4,1791.3 1146.6,1802.5 1147.8,1808.2 1149.1,1805.3 1150.3,1810.4 1151.5,1809.7 1152.7,1807.6 1154.0,1804.1 1155.2,1805.1 1156.2,1810.2 1157.2,1811.6 1158.3,1814.3 1159.5,1817.2 1160.7,1822.0 1162.0,1831.9 1163.2,1834.3 1164.2,1831.4 1165.3,1836.1 1166.3,1834.5 1167.4,1833.8 1168.4,1837.4 1169.4,1840.5 1170.5,1835.0 1171.5,1835.8 1172.6,1840.8 1173.6,1845.0 1174.7,1843.3 1175.9,1843.3 1177.0,1846.6 1178.1,1845.5 1179.2,1848.1 1180.2,1847.9 1181.2,1851.1 1182.2,1849.7 1183.3,1850.2 1184.3,1846.4 1185.3,1846.6 1186.9,1834.3 1187.9,1835.0 1188.9,1828.9 1189.9,1829.7 1191.0,1831.7 1192.0,1837.4 1193.0,1845.0 1194.0,1847.0 1195.0,1845.1 1196.1,1845.5 1197.1,1843.5 1198.1,1843.0 1199.1,1845.0 1200.2,1846.1 1201.2,1851.6 1202.2,1857.3 1203.3,1841.2 1204.4,1823.5 1205.7,1828.7 1207.0,1830.9 1208.4,1834.3 1209.4,1815.9 1210.5,1798.9 1211.5,1801.2 1212.5,1796.3 1213.5,1802.4 1214.6,1800.6 1215.6,1796.7 1216.6,1802.4 1217.6,1798.9 1218.7,1812.9 1219.7,1825.1 1221.0,1828.9 1222.2,1826.6 1223.2,1822.2 1224.2,1810.8 1225.3,1806.6 1226.3,1801.3 1227.3,1796.6 1228.3,1791.3 1229.4,1785.2 1230.4,1786.9 1231.4,1782.0 1232.4,1782.8 1233.5,1784.3 1234.5,1785.1 1236.0,1798.9 1237.0,1798.9 1238.1,1804.9 1239.1,1805.1 1240.2,1812.3 1241.2,1812.8 1242.3,1809.3 1243.3,1805.6 1244.3,1803.6 1245.6,1804.1 1246.8,1811.2 1247.8,1805.7 1248.8,1809.2 1249.9,1805.1 1251.0,1807.8 1252.2,1805.8 1253.3,1808.1 1254.5,1806.6 1255.5,1801.0 1256.6,1795.9 1257.8,1793.6 1259.1,1795.9 1260.3,1806.9 1261.5,1812.8 1262.6,1817.0 1263.6,1824.1 1264.6,1828.1 1265.6,1820.4 1266.7,1812.7 1267.7,1809.7 1268.8,1810.3 1269.8,1808.2 1271.4,1831.2 1272.6,1825.6 1273.8,1815.9 1274.8,1825.4 1275.9,1832.7 1276.9,1837.4 1277.9,1836.7 1278.9,1839.2 1280.0,1845.0 1281.0,1849.9 1282.1,1854.3 1283.1,1853.8 1284.2,1851.4 1285.2,1846.6 1286.2,1839.1 1287.2,1835.8 1288.3,1832.8 1289.3,1830.1 1290.3,1835.3 1291.3,1832.8 1292.4,1827.7 1293.4,1818.7 1294.4,1815.9 1295.5,1820.5 1296.6,1825.1 1297.9,1823.2 1299.2,1824.9 1300.6,1828.1 1301.6,1830.4 1302.6,1829.5 1303.6,1834.3 1304.7,1833.8 1305.7,1826.0 1306.7,1825.1 1307.7,1823.3 1308.8,1819.0 1309.8,1815.9 1310.8,1813.9 1311.8,1813.6 1312.9,1819.4 1313.9,1816.8 1314.9,1818.5 1315.9,1819.1 1316.9,1819.5 1318.0,1816.4 1319.0,1817.4 1320.0,1817.9 1321.0,1822.6 1322.1,1820.5 1323.2,1817.6 1324.4,1821.2 1325.5,1820.0 1326.7,1820.5 1327.7,1822.2 1328.7,1821.0 1329.8,1817.4 1331.3,1837.4 1332.3,1834.3 1333.3,1837.0 1334.4,1835.8 1335.7,1840.1 1337.0,1842.2 1338.4,1840.4 1339.4,1846.9 1340.5,1854.3 1341.5,1851.5 1342.6,1848.2 1343.6,1849.7 1344.6,1849.7 1345.6,1846.2 1346.7,1850.6 1347.7,1851.5 1348.7,1850.3 1349.7,1848.1 1350.8,1857.4 1351.9,1860.4 1353.2,1864.5 1354.5,1866.6 1355.9,1865.0 1356.9,1867.0 1357.9,1866.0 1358.9,1860.9 1360.0,1863.4 1361.0,1858.5 1362.0,1858.9 1363.2,1858.2 1364.3,1862.6 1365.5,1861.5 1366.6,1860.4 1367.7,1859.0 1368.7,1861.7 1369.7,1857.1 1370.7,1860.4 1371.8,1861.3 1372.8,1858.9 1373.8,1851.5 1374.8,1850.9 1375.9,1843.5 1376.9,1844.6 1377.9,1840.5 1378.9,1841.7 1379.9,1840.7 1381.0,1842.9 1382.0,1843.5 1383.0,1842.3 1384.0,1843.7 1385.1,1846.6 1386.1,1846.8 1387.2,1843.7 1388.3,1847.3 1389.3,1845.6 1390.4,1845.6 1391.5,1846.6 1392.5,1847.3 1393.6,1849.0 1394.6,1846.0 1395.7,1848.1 1396.8,1845.9 1397.8,1846.1 1398.9,1846.6 1400.0,1847.1 1401.1,1852.7 1402.2,1853.9 1403.3,1852.6 1404.4,1856.0 1405.5,1855.3 1406.6,1855.8 1407.8,1856.8 1409.0,1851.5 1410.3,1851.2 1411.5,1848.2 1412.7,1840.4 1413.8,1837.5 1414.8,1841.2 1415.8,1840.2 1416.8,1841.0 1417.9,1839.0 1418.9,1843.5 1419.9,1842.0 1420.9,1839.0 1421.9,1840.4 1423.5,1845.0 1424.5,1844.0 1425.6,1848.0 1426.7,1844.5 1427.7,1846.4 1428.8,1844.9 1429.9,1843.1 1430.9,1847.4 1432.0,1843.0 1433.1,1846.9 1434.1,1842.3 1435.2,1844.1 1436.3,1845.9 1437.3,1845.0 1438.5,1850.8 1439.8,1852.7 1440.8,1853.5 1441.9,1852.7 1443.0,1858.0 1444.1,1863.5 1445.4,1863.1 1446.7,1859.8 1448.1,1858.9 1449.1,1858.6 1450.1,1852.9 1451.1,1854.3 1452.2,1857.1 1453.3,1865.0 1454.3,1859.6 1455.3,1855.4 1456.4,1849.7 1457.4,1850.2 1458.4,1851.9 1459.4,1848.5 1460.4,1847.8 1461.4,1852.5 1462.5,1848.8 1463.5,1850.6 1464.5,1847.1 1465.5,1846.9 1466.5,1849.7 1468.0,1852.7 1469.1,1852.9 1470.2,1851.5 1471.3,1855.3 1472.4,1853.1 1473.5,1855.6 1474.6,1852.5 1475.7,1854.3 1476.8,1855.0 1477.8,1856.9 1478.8,1860.4 1479.9,1858.2 1481.0,1861.8 1482.1,1857.0 1483.2,1857.1 1484.3,1856.4 1485.4,1859.1 1486.5,1858.9 1487.6,1861.4 1488.7,1855.5 1489.8,1855.7 1490.9,1859.4 1492.0,1855.6 1493.1,1858.8 1494.2,1857.3 1495.7,1851.2 1496.9,1849.5 1498.0,1851.0 1499.2,1855.1 1500.3,1852.7 1501.4,1859.3 1502.5,1865.0 1503.5,1860.5 1504.5,1854.1 1505.5,1852.7 1506.6,1852.3 1507.7,1851.1 1508.8,1853.7 1509.8,1853.9 1510.9,1855.1 1512.0,1853.5 1513.1,1853.1 1514.1,1852.7 1515.4,1857.0 1516.6,1859.1 1517.8,1863.5 1519.1,1869.1 1520.3,1869.6 1521.4,1869.8 1522.6,1872.0 1523.7,1869.2 1524.9,1871.2 1526.0,1868.5 1527.0,1863.5 1528.3,1868.8 1529.5,1874.2 1530.6,1873.2 1531.7,1872.1 1532.7,1873.9 1533.8,1875.7 1534.9,1872.3 1536.0,1874.0 1537.0,1872.8 1538.1,1874.2 1539.2,1878.3 1540.3,1875.8 1541.3,1866.8 1542.4,1861.9 1543.7,1862.7 1545.1,1863.3 1546.4,1860.4 1547.9,1852.7 1549.0,1853.4 1550.1,1850.8 1551.2,1853.4 1552.3,1855.5 1553.4,1852.3 1554.5,1854.4 1555.6,1855.8 1556.8,1856.5 1557.9,1857.8 1559.1,1855.8 1560.2,1858.9 1561.3,1860.1 1562.3,1867.7 1563.3,1868.1 1564.3,1865.0 1565.4,1865.5 1566.4,1861.9 1567.5,1861.7 1568.7,1855.4 1569.8,1855.8 1571.0,1852.7 1572.0,1857.6 1573.0,1862.1 1574.1,1863.5 1575.1,1861.1 1576.1,1859.6 1577.1,1858.9 1578.2,1855.3 1579.2,1851.5 1580.2,1851.2 1581.4,1849.9 1582.5,1852.2 1583.7,1853.2 1584.8,1852.7 1585.8,1853.8 1586.9,1854.5 1587.9,1855.8 1589.0,1854.6 1590.2,1857.1 1591.3,1856.0 1592.4,1857.5 1593.5,1859.3 1594.7,1857.3 1595.7,1855.9 1596.7,1855.3 1597.7,1852.7 1599.0,1852.6 1600.2,1848.1 1601.4,1851.6 1602.6,1858.9 1603.9,1860.6 1605.1,1865.9 1606.3,1866.6 1607.4,1866.4 1608.4,1874.3 1609.4,1874.2 1610.6,1875.0 1611.9,1880.4 1613.1,1877.4 1614.3,1874.4 1615.6,1869.6 1616.7,1868.9 1617.9,1869.0 1619.0,1866.2 1620.2,1868.1 1621.4,1867.0 1622.6,1873.1 1623.9,1872.0 1625.2,1871.5 1626.5,1866.3 1627.7,1866.9 1629.0,1867.0 1630.3,1868.0 1631.6,1870.7 1632.9,1872.6 1634.2,1873.3 1635.5,1872.4 1636.8,1874.6 1638.1,1869.6 1639.4,1864.3 1640.5,1867.0 1641.6,1865.9 1642.7,1870.7 1643.7,1870.6 1644.8,1874.9 1645.8,1874.6 1646.8,1878.5 1647.9,1878.1 1648.9,1883.6 1650.0,1883.7 1651.1,1884.5 1652.3,1886.2 1653.6,1882.4 1654.8,1878.5 1656.1,1870.4 1657.4,1866.9 1658.7,1863.0 1660.0,1864.5 1661.3,1870.7 1662.6,1873.6 1663.9,1872.0 1665.2,1866.9 1666.5,1865.6 1667.8,1868.5 1669.0,1866.9 1670.3,1869.4 1671.6,1869.8 1672.9,1869.5 1674.2,1866.9 1675.5,1864.3 1676.8,1864.3 1693.6,1863.8 1695.4,1859.1 1697.4,1862.2 1728.4,1862.2 1731.5,1859.9 2033.0,1859.9"/>
<polyline stroke="#32cd32" points="282.1,2533.7 282.1,1400.0 282.1,2533.7 339.8,2533.7 339.8,1879.6 353.4,1879.6 353.4,2042.2 441.6,2042.2 441.6,1749.7 529.8,1749.7 529.8,2252.7 551.0,2252.7 552.6,2097.2 576.0,2097.2 576.0,2533.7 614.2,2533.7 614.1,2010.0 617.8,2010.0 618.7,2286.9 622.5,2286.9 622.9,2070.7 628.2,2070.7 628.7,2099.1 631.4,2099.1 632.0,1911.4 632.5,1748.8 635.8,1748.8 636.7,1975.9 637.7,1748.8 640.5,1748.8 641.5,1784.8 643.4,1792.4 640.5,2087.7 642.4,1937.9 644.3,2087.7 646.2,1934.1 648.1,2087.7 650.0,1934.1 651.9,2044.1 650.9,1826.5 656.6,1826.5 657.6,1928.4 690.8,1928.4 689.8,1833.2 697.4,1833.2 699.3,1856.9 700.2,1653.0 705.0,1653.0 706.9,1748.8 707.8,1849.3 709.7,1836.9 712.6,1836.9 712.6,1981.5 713.5,1879.6 727.7,1879.6 728.7,1841.7 731.5,1841.7 729.6,1974.0 731.5,1974.0 732.5,2044.1 741.0,2044.1 742.9,2068.8 745.8,2013.8 746.7,1945.5 746.7,1847.4 748.6,1847.4 752.4,1958.8 758.1,1958.8 759.0,2019.5 764.7,2019.5 765.7,1985.3 767.6,1983.4 769.5,2021.4 772.3,2023.3 776.1,2053.6 778.6,2017.6 779.3,1866.3 781.8,1817.0 792.2,1817.0 793.2,1792.4 798.9,1792.4 800.7,1818.9 802.6,1864.4 804.5,1811.3 807.4,1811.3 809.3,1887.2 811.6,1887.2 813.1,1770.6 815.0,1770.6 815.9,1830.3 817.8,1773.4 820.7,1773.4 821.6,1807.5 823.5,1807.5 824.5,1817.0 827.3,1817.0 828.2,1916.1 831.1,1879.6 833.0,1827.5 836.8,1827.5 838.7,1885.3 840.0,1887.2 840.4,1884.8 842.3,1812.7 843.3,1680.0 844.7,1676.3 846.1,1680.0 848.0,1740.7 849.0,1858.2 850.4,1821.9 851.8,1793.8 853.1,1797.5 854.3,1790.9 855.6,1795.7 857.5,1729.3 859.4,1704.6 861.3,1706.5 862.2,1780.5 864.1,1740.7 865.6,1741.6 867.0,1744.5 868.9,1799.5 870.8,1795.7 872.7,1725.5 874.6,1693.3 876.0,1688.4 877.4,1693.3 879.3,1843.1 880.7,1811.2 882.1,1788.1 884.0,1869.6 885.9,1790.0 887.8,1833.6 889.3,1802.0 890.7,1769.1 892.1,1771.0 893.5,1769.1 894.5,1824.1 896.4,1780.5 897.8,1798.4 899.2,1820.3 901.1,1763.4 902.5,1776.1 904.0,1791.9 905.9,1740.7 907.8,1729.3 909.6,1790.0 911.5,1727.4 912.9,1699.0 914.4,1710.3 916.3,1769.1 918.2,1708.4 919.1,1771.0 920.4,1774.8 921.7,1784.7 922.9,1788.1 923.9,1752.0 925.8,1753.9 927.7,1800.4 929.1,1793.7 930.5,1793.8 932.4,1750.2 933.8,1748.7 935.2,1748.3 936.2,1793.8 937.6,1796.8 939.0,1793.8 940.0,1723.6 941.9,1723.6 943.8,1755.8 945.7,1733.1 947.1,1737.1 948.5,1735.0 949.9,1744.9 951.4,1763.4 952.8,1747.2 954.2,1733.1 955.6,1741.0 957.1,1755.8 959.0,1700.8 960.2,1697.6 961.5,1697.3 962.7,1695.2 964.6,1727.4 966.5,1727.4 967.5,1693.3 968.9,1700.9 970.3,1708.4 971.3,1657.2 973.2,1659.1 975.1,1662.9 977.0,1683.8 978.4,1679.7 979.8,1683.8 980.8,1704.6 981.9,1703.6 983.1,1703.1 984.3,1700.7 985.5,1704.6 987.4,1695.2 989.3,1680.0 990.4,1683.8 991.6,1681.6 992.7,1676.0 993.8,1681.5 995.0,1680.0 996.9,1681.9 998.8,1666.7 1000.2,1668.6 1001.6,1666.7 1003.5,1683.8 1004.6,1682.1 1005.6,1686.2 1006.6,1688.0 1007.7,1687.6 1008.7,1686.5 1009.8,1680.2 1010.8,1687.1 1011.9,1683.4 1012.9,1687.4 1013.9,1683.8 1014.9,1678.1 1016.8,1678.1 1017.7,1702.7 1019.0,1701.9 1020.3,1700.1 1021.5,1702.7 1022.5,1651.5 1023.9,1646.9 1025.3,1649.6 1027.2,1646.8 1029.1,1659.1 1031.0,1676.2 1032.4,1688.4 1033.9,1694.2 1035.1,1691.1 1036.4,1696.5 1037.6,1695.2 1039.5,1673.4 1041.0,1670.8 1042.4,1673.4 1044.3,1685.7 1045.2,1723.6 1047.1,1723.6 1049.0,1699.9 1050.2,1698.9 1051.4,1699.5 1052.6,1697.3 1053.8,1699.9 1054.7,1719.8 1056.1,1721.4 1057.6,1719.8 1058.5,1746.4 1060.4,1746.4 1062.3,1685.7 1064.2,1752.0 1066.1,1752.0 1068.0,1728.3 1069.9,1741.6 1071.8,1729.3 1072.9,1727.8 1074.0,1731.9 1075.0,1731.3 1076.1,1729.0 1077.2,1725.3 1078.3,1728.2 1079.4,1729.3 1080.3,1700.8 1082.2,1668.6 1084.1,1668.6 1085.1,1680.0 1086.2,1677.2 1087.3,1676.4 1088.5,1678.8 1089.6,1678.3 1090.7,1680.0 1092.6,1699.0 1094.1,1698.2 1095.5,1699.0 1096.9,1697.2 1098.3,1693.3 1099.8,1697.5 1101.2,1695.2 1102.1,1714.1 1104.0,1714.1 1105.0,1689.5 1106.4,1689.6 1107.8,1686.6 1109.7,1683.8 1111.1,1687.5 1112.6,1685.7 1114.5,1674.3 1115.7,1674.8 1117.0,1676.9 1118.2,1674.3 1119.2,1702.7 1120.6,1703.0 1122.0,1702.7 1123.9,1717.9 1125.8,1717.9 1126.8,1688.5 1127.9,1688.1 1128.9,1687.5 1130.0,1687.6 1131.0,1691.5 1132.0,1699.0 1133.1,1702.1 1134.1,1707.9 1135.1,1710.1 1136.1,1714.4 1137.3,1717.6 1138.5,1718.2 1139.6,1721.6 1140.8,1720.6 1141.8,1727.1 1142.8,1737.6 1143.8,1740.6 1144.9,1741.8 1146.0,1742.1 1147.2,1721.9 1148.4,1708.3 1149.5,1708.1 1150.5,1705.5 1151.5,1708.0 1152.5,1708.7 1153.6,1707.2 1154.6,1706.8 1155.6,1714.7 1156.6,1717.8 1157.7,1720.6 1158.7,1718.4 1159.7,1723.5 1160.7,1720.6 1162.3,1699.1 1163.3,1694.2 1164.4,1685.2 1165.6,1697.6 1166.9,1711.4 1168.0,1712.0 1169.2,1714.7 1170.3,1708.1 1171.5,1711.4 1172.6,1706.6 1173.6,1696.0 1174.7,1694.4 1175.7,1694.4 1176.7,1691.9 1177.7,1695.7 1178.8,1694.6 1179.8,1692.9 1181.0,1697.3 1182.2,1708.3 1183.5,1715.5 1184.7,1716.1 1185.9,1722.1 1187.2,1716.2 1188.4,1711.4 1189.9,1726.7 1191.0,1724.8 1192.0,1714.5 1193.0,1711.4 1194.0,1713.8 1195.0,1711.0 1196.1,1714.0 1197.1,1711.1 1198.1,1707.6 1199.1,1709.8 1200.4,1711.7 1201.6,1705.3 1202.8,1706.8 1204.4,1754.4 1205.7,1757.5 1207.0,1754.4 1208.4,1752.9 1209.4,1743.9 1210.5,1737.5 1211.7,1740.7 1213.0,1746.7 1214.1,1744.7 1215.3,1747.7 1216.4,1748.9 1217.6,1745.2 1219.1,1729.8 1220.1,1724.3 1221.2,1720.2 1222.2,1720.6 1223.7,1739.0 1224.8,1743.2 1225.9,1754.4 1226.9,1752.9 1227.9,1757.9 1229.0,1757.5 1230.8,1772.8 1231.9,1773.6 1233.0,1777.4 1234.5,1752.9 1235.5,1752.8 1236.5,1746.0 1237.6,1742.1 1238.8,1748.7 1240.0,1752.9 1241.1,1758.4 1242.2,1766.7 1243.2,1775.6 1244.2,1780.4 1245.2,1791.3 1246.3,1792.9 1247.3,1794.6 1248.3,1797.4 1249.9,1774.4 1250.9,1772.9 1251.9,1775.5 1252.9,1772.8 1254.2,1773.9 1255.4,1769.8 1256.5,1775.6 1257.5,1786.7 1258.6,1776.6 1259.6,1764.5 1260.6,1757.5 1261.7,1748.3 1262.8,1743.6 1264.3,1731.3 1265.6,1734.6 1267.0,1733.1 1268.3,1731.3 1269.8,1762.1 1271.4,1722.1 1272.5,1722.5 1273.7,1723.6 1274.8,1721.0 1276.0,1720.6 1277.0,1721.0 1278.1,1728.3 1279.4,1721.0 1280.6,1709.8 1281.7,1711.1 1282.9,1714.2 1284.0,1715.6 1285.2,1714.4 1286.3,1706.6 1287.3,1696.0 1288.4,1705.2 1289.4,1709.5 1290.4,1714.4 1291.7,1711.6 1293.1,1706.6 1294.4,1700.6 1295.4,1693.2 1296.5,1685.1 1297.5,1682.2 1298.8,1683.3 1300.1,1677.3 1301.5,1677.6 1302.7,1680.1 1303.9,1685.2 1305.2,1685.2 1306.2,1687.3 1307.2,1691.9 1308.2,1699.1 1309.5,1701.0 1310.7,1703.2 1311.9,1706.8 1313.2,1711.0 1314.4,1711.4 1315.4,1709.1 1316.4,1710.7 1317.5,1708.5 1318.5,1706.9 1319.5,1710.4 1320.5,1708.3 1321.7,1707.6 1322.8,1708.7 1324.0,1705.6 1325.1,1706.8 1326.2,1709.2 1327.2,1707.9 1328.2,1711.4 1329.2,1709.8 1330.3,1704.8 1331.3,1703.7 1332.8,1677.6 1333.9,1674.4 1334.9,1678.0 1335.9,1680.7 1336.9,1677.2 1337.9,1676.0 1339.0,1677.6 1340.5,1688.3 1341.5,1686.5 1342.6,1678.2 1343.6,1676.0 1344.6,1677.8 1345.6,1674.7 1346.7,1677.4 1347.7,1675.2 1348.7,1671.6 1349.7,1674.5 1350.8,1678.8 1351.9,1683.7 1353.1,1676.1 1354.3,1669.9 1355.5,1668.6 1356.6,1666.2 1357.8,1668.0 1358.9,1666.8 1360.0,1669.2 1361.0,1670.0 1362.0,1669.9 1363.6,1680.6 1364.6,1679.3 1365.6,1677.2 1366.6,1673.0 1367.7,1670.7 1368.8,1670.3 1369.9,1670.6 1371.0,1672.9 1372.1,1673.0 1373.2,1673.2 1374.3,1673.0 1375.9,1682.2 1377.0,1681.8 1378.2,1683.3 1379.3,1682.7 1380.5,1679.1 1381.5,1683.3 1382.6,1688.3 1383.6,1687.4 1384.7,1683.8 1385.7,1677.6 1386.9,1680.6 1388.1,1685.2 1389.2,1687.9 1390.2,1687.7 1391.2,1682.2 1392.2,1682.9 1393.3,1685.4 1394.3,1685.7 1395.3,1686.2 1396.3,1687.3 1397.4,1686.6 1398.4,1687.1 1399.4,1682.5 1400.4,1683.7 1401.5,1680.4 1402.5,1683.5 1403.5,1680.6 1404.5,1684.5 1405.6,1683.2 1406.6,1685.2 1407.6,1685.9 1408.6,1690.6 1409.7,1692.9 1410.7,1697.3 1411.7,1697.1 1412.7,1699.1 1413.8,1696.0 1414.9,1700.5 1416.0,1699.7 1417.1,1701.6 1418.2,1702.1 1419.3,1696.4 1420.4,1699.1 1421.4,1698.3 1422.5,1692.2 1423.5,1692.9 1424.5,1690.1 1425.6,1694.0 1426.7,1691.6 1427.7,1695.8 1428.8,1691.1 1429.9,1694.6 1430.9,1690.0 1432.0,1690.5 1433.1,1694.2 1434.1,1691.7 1435.2,1690.8 1436.3,1695.4 1437.3,1692.9 1438.9,1686.8 1439.9,1688.9 1440.9,1686.4 1441.9,1688.3 1443.0,1686.6 1444.1,1679.1 1445.3,1682.8 1446.5,1688.3 1447.6,1684.2 1448.6,1682.0 1449.6,1677.6 1450.6,1681.7 1451.7,1686.1 1452.7,1688.3 1453.7,1685.6 1454.7,1688.8 1455.8,1685.2 1456.9,1689.7 1458.1,1686.9 1459.2,1686.9 1460.4,1691.4 1461.4,1690.1 1462.4,1694.2 1463.4,1691.5 1464.5,1694.3 1465.5,1693.2 1466.5,1691.4 1468.0,1688.3 1469.1,1686.9 1470.1,1688.3 1471.1,1686.7 1472.1,1686.9 1473.2,1688.8 1474.2,1690.9 1475.2,1688.6 1476.2,1688.1 1477.3,1688.3 1478.8,1674.5 1479.9,1677.4 1481.0,1675.0 1482.1,1676.8 1483.2,1674.2 1484.3,1673.5 1485.4,1672.7 1486.5,1674.5 1488.0,1679.1 1489.0,1678.9 1490.1,1677.6 1491.1,1680.6 1492.1,1683.8 1493.1,1682.1 1494.2,1685.2 1495.3,1683.5 1496.5,1685.2 1497.6,1683.0 1498.8,1685.2 1500.3,1671.4 1501.3,1670.9 1502.4,1671.5 1503.4,1668.3 1504.4,1676.9 1505.4,1680.4 1506.5,1688.3 1507.5,1687.9 1508.5,1688.3 1509.5,1687.7 1510.6,1687.8 1511.6,1687.9 1512.6,1691.5 1513.6,1691.8 1514.7,1692.4 1515.7,1689.9 1517.2,1659.1 1518.2,1659.3 1519.3,1657.0 1520.3,1658.0 1521.3,1660.0 1522.3,1656.9 1523.4,1656.8 1524.4,1658.1 1525.4,1656.8 1526.4,1659.1 1527.5,1664.6 1528.6,1668.3 1529.8,1663.7 1531.0,1660.7 1532.1,1662.8 1533.2,1658.7 1534.3,1658.7 1535.4,1658.0 1536.5,1661.0 1537.6,1659.7 1538.7,1660.7 1540.3,1677.6 1541.3,1678.0 1542.3,1685.1 1543.3,1685.2 1544.4,1684.2 1545.4,1686.0 1546.4,1685.2 1547.5,1688.6 1548.6,1694.5 1549.9,1696.3 1551.2,1695.8 1552.6,1696.0 1554.1,1700.6 1555.3,1701.5 1556.6,1703.7 1557.8,1703.7 1559.0,1699.6 1560.2,1696.0 1561.3,1695.0 1562.3,1686.4 1563.3,1685.2 1564.3,1686.8 1565.4,1692.6 1566.4,1697.5 1567.5,1700.0 1568.7,1699.4 1569.8,1701.3 1571.0,1699.1 1572.1,1694.0 1573.1,1688.3 1574.2,1681.2 1575.2,1677.3 1576.2,1674.5 1577.2,1676.7 1578.3,1682.5 1579.3,1686.8 1580.6,1687.0 1582.0,1679.7 1583.3,1679.1 1584.3,1675.0 1585.3,1673.1 1586.4,1668.3 1587.4,1668.2 1588.4,1667.7 1589.4,1668.3 1591.0,1680.6 1592.2,1684.9 1593.4,1685.8 1594.7,1685.2 1595.7,1690.6 1596.7,1689.8 1597.7,1696.0 1598.8,1694.8 1599.8,1691.2 1600.8,1685.2 1602.1,1687.6 1603.5,1686.2 1604.8,1686.8 1605.8,1689.5 1606.8,1689.8 1607.9,1691.4 1608.9,1677.4 1610.0,1668.3 1611.0,1668.2 1612.1,1670.6 1613.1,1669.9 1614.3,1680.3 1615.6,1694.5 1616.8,1686.3 1618.0,1677.6 1619.2,1676.9 1620.3,1681.2 1621.4,1684.1 1622.6,1684.9 1623.9,1680.8 1625.2,1681.0 1626.5,1686.2 1627.7,1687.5 1629.0,1696.0 1630.3,1701.7 1631.6,1693.4 1632.9,1686.2 1634.2,1681.3 1635.5,1673.3 1636.8,1672.4 1638.1,1670.7 1639.4,1672.6 1640.7,1678.4 1641.9,1672.9 1643.2,1669.4 1644.5,1668.9 1645.8,1672.0 1646.8,1675.5 1647.9,1682.3 1649.2,1676.5 1650.5,1670.7 1652.3,1660.4 1653.6,1663.9 1654.8,1672.0 1656.0,1668.7 1657.1,1670.3 1658.2,1668.1 1659.5,1663.8 1660.8,1659.1 1662.6,1653.9 1663.9,1656.1 1665.2,1662.9 1666.5,1661.0 1667.8,1659.1 1669.6,1652.6 1670.6,1649.3 1671.6,1650.0 1672.9,1652.6 1674.2,1655.2 1675.2,1661.0 1676.3,1668.1 1680.7,1673.3 1684.5,1675.1 1720.7,1675.1 1723.3,1679.7 1725.8,1675.8 1756.8,1675.8 1759.4,1680.2 2033.0,1680.2"/>
<polyline stroke="#ffa500" points="281.6,2533.7 529.8,2533.7 529.8,2252.7 547.4,2252.7 547.4,2253.0 549.2,2287.2 552.0,2289.0 553.8,2314.8 576.0,2314.8 576.0,2533.7 601.8,2533.7 601.8,2230.9 615.6,2230.9 616.5,2301.0 624.8,2301.0 625.7,2313.0 630.4,2314.8 631.3,2325.9 634.0,2325.9 635.0,2434.7 640.5,2438.4 641.4,2366.4 640.5,2264.1 648.8,2264.1 649.7,2283.5 651.6,2289.0 652.5,2375.7 656.2,2375.7 657.1,2305.6 691.2,2305.6 692.1,2321.3 698.6,2321.3 699.5,2261.3 702.3,2262.3 703.2,2397.8 706.9,2399.6 707.8,2333.3 709.6,2335.1 711.5,2407.0 713.3,2287.2 714.2,2353.5 728.1,2353.5 729.9,2360.9 731.8,2309.3 733.6,2259.5 741.0,2259.5 742.8,2222.4 745.8,2224.3 747.6,2288.8 753.9,2288.8 755.2,2241.2 757.2,2205.3 762.7,2205.3 764.8,2214.9 768.5,2218.6 770.5,2275.5 772.0,2325.9 774.5,2322.2 777.1,2211.9 779.0,2211.9 779.9,2285.3 781.7,2264.1 783.8,2266.0 784.7,2305.8 793.5,2306.5 795.4,2311.1 800.0,2311.1 800.9,2390.4 803.7,2390.4 805.5,2360.9 808.3,2360.9 809.2,2272.4 812.0,2274.3 812.9,2341.6 815.7,2268.7 820.3,2266.9 822.1,2311.1 825.8,2311.1 826.7,2263.2 830.4,2265.0 832.3,2298.2 835.0,2290.8 836.9,2248.4 838.7,2228.2 841.4,2221.9 843.3,2326.2 845.2,2326.2 847.1,2246.5 848.5,2247.9 849.9,2250.3 851.8,2212.4 853.7,2198.2 855.1,2203.9 856.5,2202.9 858.4,2227.6 860.3,2231.4 861.3,2275.0 862.7,2274.4 864.1,2275.0 866.0,2240.8 867.9,2244.6 869.8,2257.9 870.8,2292.0 872.2,2289.9 873.6,2292.0 874.6,2248.4 876.5,2263.6 877.9,2243.1 879.3,2220.0 881.2,2219.0 882.6,2224.6 884.0,2227.6 885.9,2259.8 887.4,2257.4 888.8,2261.7 890.7,2229.5 892.6,2206.7 894.5,2212.4 896.4,2189.6 897.8,2189.2 899.2,2189.6 900.2,2210.5 902.1,2229.5 904.0,2212.4 905.9,2256.0 907.8,2209.6 909.6,2240.8 911.1,2247.2 912.5,2254.1 914.4,2240.8 915.7,2242.0 916.9,2244.8 918.2,2248.4 919.1,2193.4 921.0,2190.6 922.4,2190.0 923.9,2191.5 925.8,2199.1 927.7,2170.7 929.1,2171.8 930.5,2170.7 931.5,2231.4 932.9,2237.3 934.3,2242.7 935.5,2242.7 936.7,2246.7 937.9,2242.2 939.0,2244.6 940.0,2212.4 941.9,2218.1 943.8,2195.3 945.2,2194.6 946.6,2195.3 948.5,2221.9 950.4,2204.8 952.3,2225.7 953.7,2224.5 955.2,2225.7 956.1,2210.5 958.0,2212.4 959.9,2237.1 961.1,2237.2 962.3,2238.3 963.5,2241.6 964.6,2239.0 966.5,2223.8 967.8,2224.8 969.1,2224.5 970.3,2223.8 971.3,2210.5 972.5,2208.8 973.6,2211.9 974.8,2208.7 976.0,2209.6 977.0,2202.9 978.4,2203.8 979.8,2202.9 980.8,2194.4 981.9,2191.9 983.0,2191.9 984.2,2196.4 985.3,2191.5 986.4,2194.4 988.3,2199.1 990.2,2199.1 991.2,2218.1 992.3,2215.9 993.4,2221.3 994.4,2216.7 995.5,2217.5 996.6,2219.3 997.7,2215.9 998.8,2218.1 999.7,2227.6 1001.6,2227.6 1002.6,2221.9 1003.6,2220.8 1004.6,2224.2 1005.6,2222.9 1006.7,2219.5 1007.7,2223.2 1008.7,2224.1 1009.8,2220.9 1010.8,2219.5 1011.8,2220.3 1012.8,2220.9 1013.9,2222.3 1014.9,2221.9 1016.8,2208.6 1018.1,2206.2 1019.3,2205.8 1020.6,2208.6 1022.5,2220.0 1023.6,2218.5 1024.7,2216.9 1025.8,2221.0 1026.9,2216.9 1028.0,2216.8 1029.1,2220.0 1030.1,2209.6 1032.0,2225.7 1033.9,2202.9 1035.0,2204.7 1036.2,2203.8 1037.4,2203.1 1038.6,2202.0 1040.5,2211.5 1041.9,2202.5 1043.3,2197.2 1044.8,2201.8 1046.2,2204.8 1047.6,2204.0 1049.0,2197.2 1050.5,2195.8 1051.9,2199.1 1052.8,2193.4 1054.2,2190.0 1055.7,2192.5 1057.6,2177.3 1059.5,2178.3 1061.4,2211.5 1063.3,2184.0 1064.7,2181.1 1066.1,2183.0 1067.0,2202.0 1068.3,2205.0 1069.6,2202.1 1070.8,2203.9 1071.9,2206.2 1072.9,2203.4 1074.0,2204.3 1075.1,2206.2 1076.1,2206.6 1077.2,2203.7 1078.2,2206.8 1079.3,2204.2 1080.3,2203.9 1081.3,2229.5 1083.2,2218.1 1084.3,2218.2 1085.4,2219.0 1086.5,2220.1 1087.6,2216.3 1088.7,2217.2 1089.8,2218.1 1090.7,2211.5 1091.9,2212.6 1093.0,2211.5 1094.1,2209.9 1095.2,2213.9 1096.3,2210.9 1097.4,2211.5 1099.3,2222.8 1100.7,2219.2 1102.1,2219.0 1103.3,2217.4 1104.5,2217.7 1105.7,2221.1 1106.9,2220.0 1108.3,2219.3 1109.7,2215.2 1111.1,2215.1 1112.6,2215.2 1114.5,2222.8 1115.9,2219.4 1117.3,2211.5 1118.6,2208.4 1119.8,2209.5 1121.1,2210.5 1123.0,2205.8 1124.4,2206.1 1125.8,2206.7 1126.8,2220.0 1127.9,2218.3 1128.9,2220.7 1130.0,2220.0 1131.2,2215.2 1132.3,2214.8 1133.5,2211.3 1134.6,2206.1 1135.6,2207.7 1136.7,2205.7 1137.7,2202.1 1138.7,2205.6 1139.7,2204.7 1140.8,2201.5 1141.9,2202.2 1143.1,2197.9 1144.2,2198.8 1145.4,2195.4 1146.4,2198.2 1147.4,2205.3 1148.4,2209.2 1149.6,2211.5 1150.7,2212.3 1151.9,2211.5 1153.0,2210.7 1154.2,2209.3 1155.4,2209.6 1156.5,2207.4 1157.7,2203.0 1158.7,2208.4 1159.7,2217.7 1160.7,2226.1 1161.8,2226.1 1162.8,2226.7 1163.8,2227.6 1165.0,2218.9 1166.3,2204.6 1167.5,2206.7 1168.7,2202.8 1170.0,2203.0 1171.0,2210.1 1172.0,2213.9 1173.0,2218.4 1174.2,2219.5 1175.3,2218.0 1176.5,2220.7 1177.6,2218.4 1178.7,2213.5 1179.7,2214.7 1180.7,2210.7 1181.9,2208.3 1183.0,2205.8 1184.2,2203.3 1185.3,2203.0 1186.5,2199.7 1187.6,2199.7 1188.8,2199.6 1189.9,2195.4 1191.0,2198.8 1192.0,2198.9 1193.0,2200.0 1194.2,2196.7 1195.3,2200.1 1196.5,2196.4 1197.6,2195.4 1198.8,2197.0 1199.9,2198.5 1201.1,2195.2 1202.2,2196.9 1203.8,2176.9 1205.0,2181.7 1206.2,2189.2 1207.2,2192.6 1208.3,2201.0 1209.3,2204.6 1210.5,2198.9 1211.7,2199.2 1213.0,2195.4 1214.0,2198.6 1215.0,2199.0 1216.0,2203.0 1217.1,2204.9 1218.1,2212.6 1219.1,2215.3 1220.1,2211.1 1221.2,2205.7 1222.2,2198.4 1223.3,2196.2 1224.4,2194.7 1225.5,2196.7 1226.6,2195.5 1227.7,2193.8 1228.8,2201.1 1229.9,2206.1 1230.9,2201.0 1231.9,2194.5 1233.0,2189.2 1234.0,2194.7 1235.0,2197.6 1236.0,2198.4 1237.0,2193.0 1238.1,2190.2 1239.1,2183.1 1240.1,2177.8 1241.1,2177.6 1242.2,2173.9 1243.3,2170.5 1244.5,2171.6 1245.6,2168.3 1246.8,2167.7 1247.9,2168.1 1249.1,2174.7 1250.2,2174.6 1251.4,2176.9 1252.5,2177.4 1253.7,2175.4 1254.8,2180.2 1256.0,2178.5 1257.2,2179.1 1258.3,2183.2 1259.5,2183.8 1260.6,2183.1 1261.8,2183.8 1262.9,2181.3 1264.1,2186.1 1265.2,2184.6 1266.2,2189.9 1267.3,2193.6 1268.3,2195.4 1269.8,2206.1 1271.0,2208.3 1272.1,2211.5 1273.3,2212.7 1274.4,2216.9 1275.5,2214.3 1276.5,2213.7 1277.5,2209.2 1278.5,2215.9 1279.6,2223.5 1280.6,2229.2 1281.6,2228.8 1282.6,2227.6 1283.7,2226.1 1284.7,2221.7 1285.7,2215.6 1286.7,2209.2 1288.0,2213.9 1289.2,2220.0 1290.2,2214.4 1291.2,2202.8 1292.3,2196.9 1293.3,2202.7 1294.3,2210.3 1295.3,2218.4 1296.5,2218.8 1297.6,2218.3 1298.7,2220.9 1299.8,2222.7 1301.0,2220.9 1302.1,2221.5 1303.1,2216.8 1304.1,2215.7 1305.2,2213.8 1306.2,2214.6 1307.2,2219.5 1308.2,2223.0 1309.3,2218.3 1310.3,2218.0 1311.3,2212.3 1312.3,2212.0 1313.4,2210.1 1314.4,2213.7 1315.4,2209.3 1316.4,2213.0 1317.5,2210.7 1318.6,2209.6 1319.8,2210.6 1320.9,2210.1 1322.1,2212.3 1323.2,2211.1 1324.4,2209.7 1325.5,2211.3 1326.7,2209.2 1327.9,2210.1 1329.1,2216.9 1330.4,2218.4 1331.7,2214.0 1333.0,2211.9 1334.4,2210.7 1335.5,2212.5 1336.7,2214.4 1337.8,2219.2 1339.0,2220.0 1340.0,2219.8 1341.0,2214.0 1342.0,2212.3 1343.1,2213.6 1344.1,2220.7 1345.1,2221.5 1346.1,2219.5 1347.2,2223.1 1348.2,2223.7 1349.2,2221.3 1350.2,2220.7 1351.3,2221.5 1352.5,2216.2 1353.7,2210.7 1354.8,2212.0 1355.8,2208.7 1356.9,2212.9 1357.9,2212.4 1358.9,2210.7 1360.0,2206.0 1361.0,2206.7 1362.0,2203.0 1363.0,2203.7 1364.1,2208.1 1365.1,2210.7 1366.2,2211.2 1367.4,2207.4 1368.6,2207.8 1369.7,2207.7 1370.9,2206.5 1372.0,2205.9 1373.2,2207.6 1374.3,2204.6 1375.5,2205.3 1376.6,2209.1 1377.8,2209.0 1378.9,2209.2 1379.9,2207.0 1381.0,2204.9 1382.0,2204.6 1383.1,2205.6 1384.3,2208.0 1385.5,2210.1 1386.6,2209.2 1387.8,2209.3 1388.9,2209.4 1390.1,2207.5 1391.2,2206.1 1392.2,2206.9 1393.3,2205.1 1394.3,2205.1 1395.3,2204.0 1396.3,2205.7 1397.4,2206.3 1398.4,2207.1 1399.4,2205.7 1400.4,2207.6 1401.5,2205.8 1402.5,2205.3 1403.5,2206.1 1404.5,2206.4 1405.6,2203.3 1406.6,2200.0 1407.7,2203.3 1408.9,2201.6 1410.0,2202.6 1411.2,2206.1 1412.3,2204.3 1413.3,2203.9 1414.4,2204.4 1415.5,2207.7 1416.6,2208.1 1417.6,2205.0 1418.7,2204.6 1419.8,2204.0 1420.9,2205.7 1421.9,2206.1 1423.0,2206.7 1424.0,2203.8 1425.0,2203.0 1426.0,2203.5 1427.1,2201.1 1428.1,2202.7 1429.1,2204.5 1430.1,2204.6 1431.2,2201.2 1432.2,2203.6 1433.2,2205.3 1434.2,2202.4 1435.3,2201.5 1436.3,2203.6 1437.3,2202.1 1438.3,2202.4 1439.4,2201.4 1440.4,2203.0 1441.4,2204.3 1442.4,2201.1 1443.5,2200.9 1444.5,2204.2 1445.5,2211.0 1446.5,2215.3 1447.7,2212.0 1448.8,2212.3 1450.0,2207.6 1451.1,2207.7 1452.3,2208.5 1453.4,2210.9 1454.6,2209.6 1455.8,2212.3 1456.9,2214.5 1458.1,2212.1 1459.2,2213.9 1460.4,2215.3 1461.5,2215.1 1462.7,2214.6 1463.8,2213.6 1465.0,2215.3 1466.0,2214.9 1467.0,2213.3 1468.0,2210.7 1469.1,2214.6 1470.1,2216.9 1471.1,2216.9 1472.1,2217.8 1473.2,2217.7 1474.2,2218.0 1475.2,2218.9 1476.2,2219.9 1477.3,2220.0 1478.3,2220.2 1479.3,2217.9 1480.3,2218.4 1481.4,2219.6 1482.4,2215.6 1483.4,2216.6 1484.4,2218.3 1485.5,2214.9 1486.5,2215.3 1487.5,2214.6 1488.5,2213.5 1489.6,2210.7 1490.7,2212.7 1491.9,2211.0 1493.0,2210.6 1494.2,2212.3 1495.2,2216.1 1496.2,2217.2 1497.2,2218.4 1498.3,2223.5 1499.3,2225.8 1500.3,2227.6 1501.3,2222.7 1502.4,2221.2 1503.4,2218.4 1504.4,2215.0 1505.4,2214.2 1506.5,2212.3 1507.5,2213.8 1508.5,2212.1 1509.5,2212.1 1510.6,2209.8 1511.6,2209.4 1512.6,2210.7 1513.8,2213.6 1514.9,2213.7 1516.1,2216.6 1517.2,2220.0 1518.4,2219.8 1519.5,2217.6 1520.7,2216.5 1521.8,2216.9 1522.8,2217.6 1523.9,2216.7 1524.9,2216.3 1525.9,2216.4 1526.9,2219.8 1528.0,2218.4 1529.1,2217.3 1530.2,2217.4 1531.3,2216.5 1532.4,2218.6 1533.5,2216.4 1534.6,2215.0 1535.7,2215.3 1536.7,2213.5 1537.7,2211.4 1538.7,2210.7 1539.8,2210.0 1540.8,2211.3 1541.8,2211.5 1542.8,2208.8 1543.8,2210.4 1544.9,2210.7 1546.0,2212.0 1547.2,2208.2 1548.3,2207.6 1549.5,2209.2 1550.6,2209.4 1551.8,2207.5 1552.9,2208.0 1554.1,2209.2 1555.2,2209.5 1556.4,2210.5 1557.6,2208.9 1558.7,2207.7 1560.0,2209.4 1561.4,2212.1 1562.7,2216.9 1563.9,2215.0 1565.2,2209.0 1566.4,2206.1 1567.5,2206.2 1568.7,2207.4 1569.8,2206.7 1571.0,2207.7 1572.0,2204.8 1573.0,2203.3 1574.1,2203.0 1575.1,2204.2 1576.1,2209.8 1577.1,2210.7 1578.3,2209.8 1579.4,2212.7 1580.6,2211.3 1581.8,2212.3 1582.8,2213.6 1583.8,2212.6 1584.8,2215.3 1585.8,2215.5 1586.9,2219.2 1587.9,2220.0 1588.9,2217.2 1589.9,2212.5 1591.0,2209.2 1592.0,2210.4 1593.0,2209.1 1594.0,2207.3 1595.1,2210.0 1596.1,2206.3 1597.1,2207.7 1598.1,2208.4 1599.2,2206.9 1600.2,2209.2 1601.3,2207.4 1602.5,2208.1 1603.6,2205.7 1604.8,2206.1 1606.0,2204.7 1607.1,2204.1 1608.3,2204.3 1609.4,2203.0 1610.4,2207.7 1611.5,2212.2 1612.5,2213.8 1613.6,2213.2 1614.8,2210.8 1615.9,2212.2 1617.1,2210.7 1618.2,2210.2 1619.3,2211.3 1620.4,2212.3 1621.5,2214.0 1622.6,2213.6 1623.9,2217.7 1625.2,2221.3 1626.5,2213.3 1627.7,2208.4 1629.0,2205.7 1630.3,2205.8 1631.6,2206.3 1632.9,2204.5 1634.2,2210.7 1635.5,2216.1 1636.5,2224.3 1637.6,2229.0 1638.8,2222.7 1640.1,2218.7 1641.4,2214.4 1642.7,2211.0 1643.7,2215.1 1644.8,2217.7 1645.8,2221.3 1646.8,2215.1 1647.9,2210.4 1648.9,2207.1 1650.0,2211.3 1651.1,2210.3 1652.3,2214.8 1653.6,2211.7 1654.8,2211.3 1656.1,2208.4 1657.4,2210.1 1658.7,2212.3 1660.0,2212.9 1661.3,2217.4 1662.3,2212.0 1663.4,2209.0 1664.4,2207.1 1665.5,2210.3 1666.6,2209.4 1667.8,2212.3 1669.0,2209.0 1670.3,2208.6 1671.6,2205.8 1672.9,2205.6 1674.2,2209.5 1675.5,2209.7 1676.8,2207.3 1678.1,2206.3 1679.4,2205.8 1683.2,2210.5 1725.8,2211.0 1728.4,2214.1 1731.0,2211.0 1762.0,2211.0 1764.6,2208.9 2033.0,2208.9"/>
<polyline stroke="#8b0000" points="281.6,2532.1 574.1,2532.0 575.0,2353.5 587.0,2353.5 587.9,2369.2 599.0,2369.2 599.9,2383.0 601.8,2383.0 601.8,2230.9 615.6,2230.9 615.6,2532.0 616.7,2532.0 617.4,2403.3 618.5,2407.9 619.3,2532.0 620.8,2532.0 621.3,2421.8 624.8,2423.6 625.7,2532.0 705.0,2532.0 706.0,2467.9 709.6,2467.9 710.6,2408.9 713.3,2408.9 714.2,2473.4 729.0,2473.4 731.8,2478.0 742.8,2478.0 746.5,2481.7 747.4,2532.0 768.6,2532.0 769.6,2490.0 777.9,2491.8 779.7,2532.0 797.2,2532.0 799.1,2460.5 805.5,2461.4 809.2,2466.0 812.0,2499.2 812.9,2467.9 814.7,2532.0 821.2,2532.0 823.0,2477.1 833.2,2478.9 835.0,2506.6 837.8,2506.6 838.7,2460.5 841.4,2460.8 843.3,2506.3 845.2,2489.3 847.1,2466.5 848.5,2467.3 849.9,2468.4 850.9,2493.1 852.8,2500.6 854.7,2513.9 855.9,2519.0 857.2,2526.6 858.4,2531.9 859.4,2495.0 860.5,2493.1 861.7,2493.6 862.8,2494.2 863.9,2492.9 865.1,2493.1 867.0,2513.9 868.9,2513.9 870.8,2477.9 872.7,2477.9 874.6,2513.9 876.0,2512.7 877.4,2513.9 878.4,2495.0 879.5,2494.3 880.6,2496.9 881.8,2496.6 882.9,2495.7 884.0,2496.9 885.9,2486.4 887.4,2488.1 888.8,2489.3 890.7,2503.5 892.1,2496.4 893.5,2492.1 894.8,2498.0 896.1,2500.7 897.3,2506.3 898.7,2498.9 900.2,2494.0 901.6,2501.2 903.0,2508.2 904.4,2500.9 905.9,2495.9 907.1,2500.6 908.4,2505.1 909.6,2510.1 910.9,2510.5 912.2,2508.3 913.4,2509.2 914.9,2504.3 916.3,2496.9 917.7,2496.0 919.1,2497.8 921.0,2519.6 922.4,2519.2 923.9,2521.5 925.3,2519.3 926.7,2515.8 928.1,2518.5 929.6,2520.6 931.0,2502.4 932.4,2481.7 933.8,2481.3 935.2,2479.8 937.1,2462.7 938.6,2464.0 940.0,2462.7 940.9,2510.1 942.4,2512.1 943.8,2512.0 945.0,2508.2 946.3,2507.3 947.6,2504.4 949.0,2507.1 950.4,2512.0 951.4,2495.0 953.3,2495.9 955.2,2506.3 957.1,2512.0 958.5,2509.4 959.9,2505.4 961.0,2505.1 962.2,2506.3 963.3,2506.4 964.5,2505.7 965.6,2506.3 967.5,2513.9 968.9,2515.8 970.3,2515.8 972.2,2532.1 985.5,2532.1 987.4,2524.4 1021.5,2524.4 1023.4,2532.1 1030.1,2532.1 1031.0,2517.7 1033.9,2517.7 1034.8,2532.1 1043.3,2532.1 1044.3,2524.4 1047.1,2524.4 1048.1,2532.1 1064.2,2532.1 1065.1,2524.4 1082.2,2524.4 1083.2,2532.1 1098.3,2532.1 1099.3,2525.3 1105.0,2525.3 1106.9,2532.1 1130.0,2532.1 1159.2,2532.2 1160.7,2525.7 1165.3,2525.7 1167.5,2532.2 1174.6,2528.8 1186.9,2528.8 1189.9,2532.2 1200.7,2532.2 1203.8,2525.7 1209.9,2525.7 1211.4,2521.1 1219.1,2521.1 1220.7,2525.7 1228.3,2522.7 1236.0,2522.7 1237.6,2528.8 1242.2,2527.3 1248.3,2525.7 1249.9,2521.1 1256.0,2521.1 1258.5,2518.0 1261.5,2525.7 1265.2,2522.7 1268.3,2518.0 1272.9,2511.9 1279.0,2510.4 1281.2,2498.1 1283.7,2499.6 1286.1,2510.4 1289.8,2515.0 1291.3,2527.3 1295.9,2521.1 1306.7,2519.6 1308.2,2513.4 1311.3,2518.0 1326.7,2518.0 1329.1,2513.4 1331.3,2515.0 1332.8,2525.7 1337.4,2521.1 1342.0,2518.0 1351.3,2518.0 1352.8,2528.8 1408.1,2528.8 1410.3,2522.7 1420.4,2522.7 1421.9,2528.8 1445.0,2528.8 1448.1,2524.2 1452.7,2522.7 1455.8,2519.6 1478.8,2519.6 1480.3,2522.7 1491.1,2522.7 1494.2,2519.6 1498.8,2519.6 1500.9,2515.0 1503.4,2521.1 1506.5,2522.7 1512.6,2522.7 1515.7,2519.6 1520.3,2519.6 1521.8,2528.8 1540.3,2528.8 1543.3,2524.2 1546.4,2521.1 1554.1,2519.6 1557.2,2518.0 1560.2,2516.5 1563.3,2521.1 1567.9,2521.1 1572.5,2519.6 1577.1,2521.1 1581.8,2528.8 1587.9,2528.8 1591.0,2525.7 1597.1,2524.2 1610.9,2522.7 1615.6,2518.0 1620.2,2513.4 1623.9,2518.2 1627.7,2515.6 1631.6,2511.7 1635.5,2510.4 1639.4,2511.7 1643.2,2515.6 1647.1,2516.9 1651.0,2519.5 1654.8,2522.0 1658.7,2524.6 1662.6,2525.9 1666.5,2529.8 1671.6,2531.6 1682.0,2531.6 1684.5,2524.6 1688.4,2525.9 1692.3,2524.6 1697.4,2523.3 1701.3,2524.6 1703.9,2528.5 1707.8,2529.8 1728.4,2530.6 1731.0,2526.7 1767.1,2526.7 1769.7,2524.1 1772.3,2526.7 2033.0,2526.7"/>
</g>
<rect x="282.1" y="1485.4" width="1743.9" height="1047.3999999999996" fill="none" stroke="#000" stroke-width="2.2"/>
<line x1="281.0" y1="2532.4" x2="2027.1" y2="2532.4" stroke="#000" stroke-width="3.1"/>
<g font-size="74" fill="#000">
<text x="264.5" y="2556.6" text-anchor="end">0.0</text>
<text x="257.5" y="2360.8" text-anchor="end">0.1</text>
<text x="257.5" y="2165.0" text-anchor="end">0.2</text>
<text x="257.5" y="1969.2" text-anchor="end">0.3</text>
<text x="257.5" y="1773.4" text-anchor="end">0.4</text>
<text x="257.5" y="1577.6" text-anchor="end">0.5</text>
<text x="283.1" y="2615.1" text-anchor="middle">0</text>
<text x="635.1" y="2615.1" text-anchor="middle">500</text>
<text x="984.1" y="2615.1" text-anchor="middle">1000</text>
<text x="1333.1" y="2615.1" text-anchor="middle">1500</text>
<text x="1682.1" y="2615.1" text-anchor="middle">2000</text>
<text x="1975.1" y="2615.1" text-anchor="middle">2500</text>
</g>
<g font-size="72" text-anchor="end">
<text x="2004" y="1650.0" fill="#2bb04c">hexagons</text>
<text x="2007" y="1833.3" fill="#1e90ff">pentagons</text>
<text x="1998.8" y="2189.0" fill="#ffa500">heptagons</text>
<text x="2002" y="2386.5" fill="#0000ff">quadrilaterals</text>
<text x="2003.5" y="2504.7" fill="#8b0000">octagons</text>
</g>
<text font-size="108.3" text-anchor="middle" class="yl" transform="translate(105.6,2035) rotate(-90)">Specific number of cells</text>
<text font-size="109" text-anchor="middle" x="1148" y="2733.6">Time, <tspan font-style="italic">t</tspan></text>
<text font-size="83" text-anchor="middle" x="1041" y="2860">(<tspan font-weight="bold">b</tspan>)</text>
</svg>
</body></html>
